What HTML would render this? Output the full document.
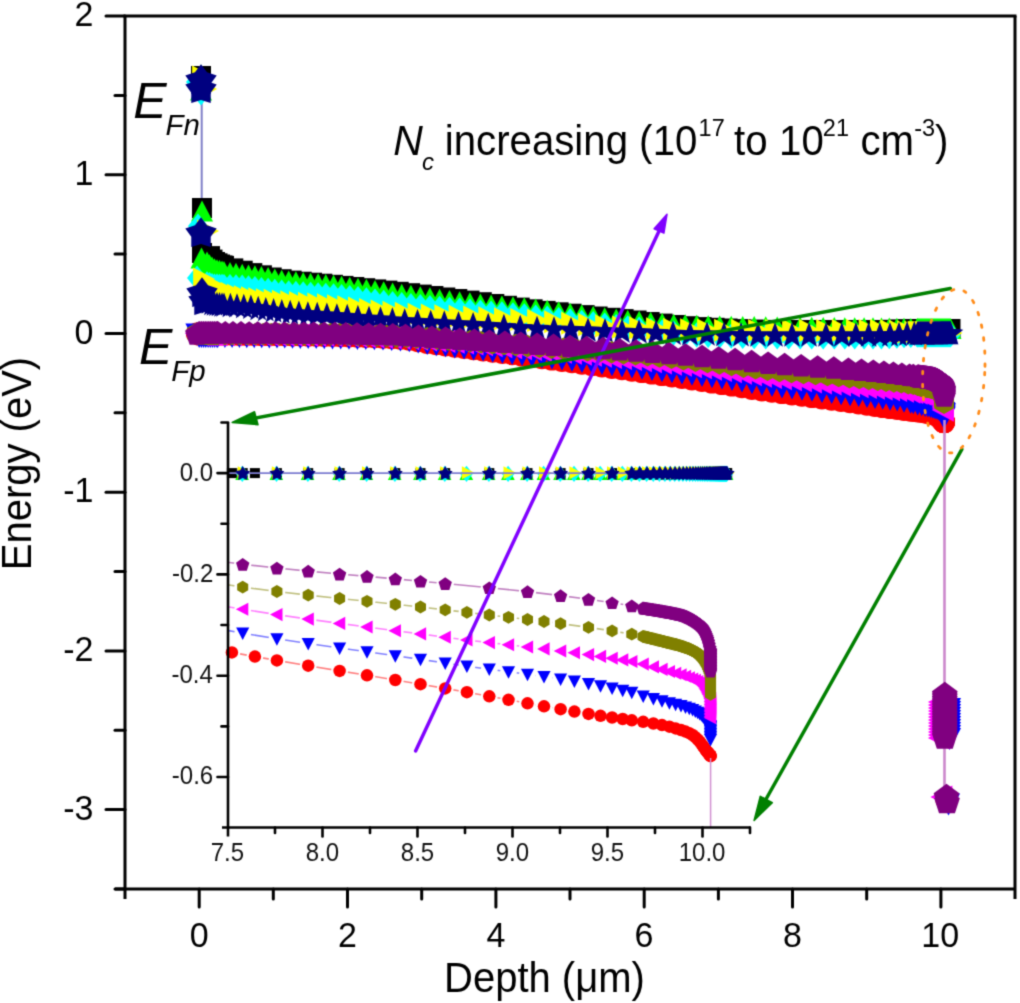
<!DOCTYPE html>
<html><head><meta charset="utf-8"><style>
html,body{margin:0;padding:0;background:#fff;}
svg{display:block;}
text{font-family:"Liberation Sans",sans-serif;}
</style></head><body>
<svg width="1020" height="1003" viewBox="0 0 1020 1003">
<defs><filter id="soft" color-interpolation-filters="sRGB" x="0" y="0" width="1020" height="1003" filterUnits="userSpaceOnUse"><feConvolveMatrix order="3" kernelMatrix="1 4 1 4 16 4 1 4 1" divisor="36" edgeMode="duplicate"/></filter><path id="k1" d="M-10.00,-10.00h20.00v20.00h-20.00z" fill="#000000"/><path id="k2" d="M-10.00,-10.00h20.00v20.00h-20.00z" fill="#000000"/><path id="k3" d="M0,-11.55L11.03,9.45L-11.03,9.45z" fill="#00FF00"/><path id="k4" d="M0,-11.55L11.03,9.45L-11.03,9.45z" fill="#00FF00"/><path id="k5" d="M0,-12.60L9.97,0L0,12.60L-9.97,0z" fill="#00FFFF"/><path id="k6" d="M0,-12.60L9.97,0L0,12.60L-9.97,0z" fill="#00FFFF"/><path id="k7" d="M12.10,0L-9.90,-11.55L-9.90,11.55z" fill="#FFFF00"/><path id="k8" d="M12.10,0L-9.90,-11.55L-9.90,11.55z" fill="#FFFF00"/><path id="k9" d="M0.00,-14.85L6.01,-6.63L15.69,-3.45L9.73,4.81L9.70,15.00L0.00,11.88L-9.70,15.00L-9.73,4.81L-15.69,-3.45L-6.01,-6.63z" fill="#000080"/><path id="k10" d="M0.00,-12.15L3.33,-3.24L12.84,-2.82L5.39,3.10L7.94,12.27L0.00,7.02L-7.94,12.27L-5.39,3.10L-12.84,-2.82L-3.33,-3.24z" fill="#000080"/><path id="k11" d="M-11.00,0a11.00,11.00 0 1,0 22.00,0a11.00,11.00 0 1,0 -22.00,0z" fill="#FF0000"/><path id="k12" d="M0,12.10L11.55,-9.90L-11.55,-9.90z" fill="#0000FF"/><path id="k13" d="M-12.10,0L9.90,-11.55L9.90,11.55z" fill="#FF00FF"/><path id="k14" d="M9.72,5.61L0.00,11.22L-9.72,5.61L-9.72,-5.61L-0.00,-11.22L9.72,-5.61z" fill="#808000"/><path id="k15" d="M0.00,-11.18L11.81,-2.60L7.30,11.29L-7.30,11.29L-11.81,-2.60z" fill="#800080"/><path id="k16" d="M-11.00,0a11.00,11.00 0 1,0 22.00,0a11.00,11.00 0 1,0 -22.00,0z" fill="#FF0000"/><path id="k17" d="M0,12.10L11.55,-9.90L-11.55,-9.90z" fill="#0000FF"/><path id="k18" d="M-12.10,0L9.90,-11.55L9.90,11.55z" fill="#FF00FF"/><path id="k19" d="M9.72,5.61L0.00,11.22L-9.72,5.61L-9.72,-5.61L-0.00,-11.22L9.72,-5.61z" fill="#808000"/><path id="k20" d="M0.00,-12.15L12.84,-2.82L7.94,12.27L-7.94,12.27L-12.84,-2.82z" fill="#800080"/><path id="k21" d="M-5.00,-5.00h10.00v10.00h-10.00z" fill="#000000"/><path id="k22" d="M0,-7.15L6.83,5.85L-6.83,5.85z" fill="#00FF00"/><path id="k23" d="M0,-8.10L6.41,0L0,8.10L-6.41,0z" fill="#00FFFF"/><path id="k24" d="M6.88,0L-5.62,-6.56L-5.62,6.56z" fill="#FFFF00"/><path id="k25" d="M0.00,-7.02L2.52,-2.69L7.42,-1.63L4.08,2.11L4.58,7.09L0.00,5.07L-4.58,7.09L-4.08,2.11L-7.42,-1.63L-2.52,-2.69z" fill="#000080"/><circle id="h26" r="8.45" fill="#fff"/><circle id="h27" r="8.45" fill="#fff"/><circle id="h28" r="8.45" fill="#fff"/><circle id="h29" r="8.45" fill="#fff"/><circle id="h30" r="8.70" fill="#fff"/><path id="k31" d="M-6.25,0a6.25,6.25 0 1,0 12.50,0a6.25,6.25 0 1,0 -12.50,0z" fill="#FF0000"/><path id="k32" d="M0,6.88L6.56,-5.62L-6.56,-5.62z" fill="#0000FF"/><path id="k33" d="M-6.88,0L5.62,-6.56L5.62,6.56z" fill="#FF00FF"/><path id="k34" d="M5.52,3.19L0.00,6.38L-5.52,3.19L-5.52,-3.19L-0.00,-6.38L5.52,-3.19z" fill="#808000"/><path id="k35" d="M0.00,-6.32L6.68,-1.47L4.13,6.38L-4.13,6.38L-6.68,-1.47z" fill="#800080"/></defs>
<g filter="url(#soft)">
<rect width="1020" height="1003" fill="#fff"/>
<line x1="201.7" y1="84" x2="201.7" y2="300" stroke="#8080C8" stroke-width="2"/>
<use href="#k1" x="201.0" y="76.0"/>
<use href="#k1" x="202.0" y="208.0"/>
<use href="#k1" x="202.0" y="253.0"/>
<use href="#k2" x="210.0" y="256.1"/>
<use href="#k2" x="212.5" y="259.6"/>
<use href="#k2" x="215.0" y="262.0"/>
<use href="#k2" x="217.5" y="263.3"/>
<use href="#k2" x="220.0" y="264.5"/>
<use href="#k2" x="222.5" y="265.4"/>
<use href="#k2" x="224.0" y="265.9"/>
<use href="#k2" x="233.3" y="268.4"/>
<use href="#k2" x="242.7" y="270.7"/>
<use href="#k2" x="252.3" y="273.1"/>
<use href="#k2" x="261.9" y="275.3"/>
<use href="#k2" x="271.7" y="277.5"/>
<use href="#k2" x="281.6" y="279.2"/>
<use href="#k2" x="291.6" y="280.6"/>
<use href="#k2" x="301.7" y="281.7"/>
<use href="#k2" x="312.0" y="282.7"/>
<use href="#k2" x="322.3" y="283.7"/>
<use href="#k2" x="332.9" y="284.8"/>
<use href="#k2" x="343.5" y="285.9"/>
<use href="#k2" x="354.3" y="287.0"/>
<use href="#k2" x="365.2" y="288.2"/>
<use href="#k2" x="376.2" y="289.4"/>
<use href="#k2" x="387.4" y="290.6"/>
<use href="#k2" x="398.7" y="291.8"/>
<use href="#k2" x="410.1" y="293.2"/>
<use href="#k2" x="421.7" y="294.6"/>
<use href="#k2" x="433.4" y="296.0"/>
<use href="#k2" x="445.3" y="297.5"/>
<use href="#k2" x="457.3" y="299.0"/>
<use href="#k2" x="469.5" y="300.6"/>
<use href="#k2" x="481.8" y="302.2"/>
<use href="#k2" x="494.3" y="304.0"/>
<use href="#k2" x="506.9" y="305.8"/>
<use href="#k2" x="519.7" y="307.6"/>
<use href="#k2" x="532.6" y="309.3"/>
<use href="#k2" x="545.6" y="310.9"/>
<use href="#k2" x="558.6" y="312.3"/>
<use href="#k2" x="571.6" y="313.7"/>
<use href="#k2" x="584.6" y="315.1"/>
<use href="#k2" x="597.6" y="316.5"/>
<use href="#k2" x="610.6" y="317.8"/>
<use href="#k2" x="623.6" y="319.1"/>
<use href="#k2" x="636.6" y="320.5"/>
<use href="#k2" x="649.6" y="322.0"/>
<use href="#k2" x="662.6" y="323.6"/>
<use href="#k2" x="675.6" y="325.0"/>
<use href="#k2" x="688.6" y="326.2"/>
<use href="#k2" x="701.6" y="327.1"/>
<use href="#k2" x="714.6" y="327.8"/>
<use href="#k2" x="727.6" y="328.5"/>
<use href="#k2" x="740.6" y="329.1"/>
<use href="#k2" x="753.6" y="329.6"/>
<use href="#k2" x="766.6" y="329.9"/>
<use href="#k2" x="779.6" y="330.0"/>
<use href="#k2" x="792.6" y="330.0"/>
<use href="#k2" x="805.6" y="330.0"/>
<use href="#k2" x="818.6" y="330.0"/>
<use href="#k2" x="831.3" y="330.0"/>
<use href="#k2" x="843.2" y="330.0"/>
<use href="#k2" x="854.3" y="330.0"/>
<use href="#k2" x="864.6" y="330.0"/>
<use href="#k2" x="874.3" y="330.0"/>
<use href="#k2" x="883.3" y="330.0"/>
<use href="#k2" x="891.6" y="329.8"/>
<use href="#k2" x="899.5" y="329.5"/>
<use href="#k2" x="906.8" y="329.3"/>
<use href="#k2" x="913.6" y="329.1"/>
<use href="#k2" x="917.5" y="329.0"/>
<use href="#k2" x="918.5" y="329.0"/>
<use href="#k2" x="919.5" y="329.0"/>
<use href="#k2" x="920.5" y="329.0"/>
<use href="#k2" x="921.5" y="329.0"/>
<use href="#k2" x="922.5" y="329.0"/>
<use href="#k2" x="923.5" y="329.0"/>
<use href="#k2" x="924.5" y="329.0"/>
<use href="#k2" x="925.5" y="329.0"/>
<use href="#k2" x="926.5" y="329.0"/>
<use href="#k2" x="927.5" y="329.0"/>
<use href="#k2" x="928.5" y="329.0"/>
<use href="#k2" x="929.5" y="329.0"/>
<use href="#k2" x="930.5" y="329.0"/>
<use href="#k2" x="931.5" y="329.0"/>
<use href="#k2" x="932.5" y="329.0"/>
<use href="#k2" x="933.5" y="329.0"/>
<use href="#k2" x="934.5" y="329.0"/>
<use href="#k2" x="935.5" y="329.0"/>
<use href="#k2" x="936.5" y="329.0"/>
<use href="#k2" x="937.5" y="329.0"/>
<use href="#k2" x="938.5" y="329.0"/>
<use href="#k2" x="939.5" y="329.0"/>
<use href="#k2" x="940.5" y="329.0"/>
<use href="#k2" x="941.5" y="329.0"/>
<use href="#k2" x="942.5" y="329.0"/>
<use href="#k2" x="943.5" y="329.0"/>
<use href="#k2" x="944.5" y="329.0"/>
<use href="#k2" x="945.5" y="329.0"/>
<use href="#k2" x="946.5" y="329.0"/>
<use href="#k2" x="947.5" y="329.0"/>
<use href="#k2" x="948.5" y="329.0"/>
<use href="#k2" x="949.5" y="329.0"/>
<use href="#k2" x="950.5" y="329.0"/>
<use href="#k3" x="201.0" y="76.0"/>
<use href="#k3" x="201.0" y="91.0"/>
<use href="#k3" x="202.0" y="212.0"/>
<use href="#k3" x="201.5" y="259.0"/>
<use href="#k4" x="207.0" y="263.0"/>
<use href="#k4" x="209.5" y="265.7"/>
<use href="#k4" x="212.0" y="268.1"/>
<use href="#k4" x="214.5" y="269.8"/>
<use href="#k4" x="217.0" y="270.7"/>
<use href="#k4" x="219.5" y="271.4"/>
<use href="#k4" x="222.0" y="272.1"/>
<use href="#k4" x="224.0" y="272.5"/>
<use href="#k4" x="230.0" y="273.6"/>
<use href="#k4" x="236.0" y="274.4"/>
<use href="#k4" x="242.2" y="275.3"/>
<use href="#k4" x="248.5" y="276.1"/>
<use href="#k4" x="254.9" y="276.7"/>
<use href="#k4" x="261.4" y="277.5"/>
<use href="#k4" x="268.1" y="278.6"/>
<use href="#k4" x="274.8" y="280.0"/>
<use href="#k4" x="281.7" y="281.2"/>
<use href="#k4" x="288.7" y="282.1"/>
<use href="#k4" x="295.9" y="282.9"/>
<use href="#k4" x="303.2" y="283.6"/>
<use href="#k4" x="310.6" y="284.3"/>
<use href="#k4" x="318.1" y="284.9"/>
<use href="#k4" x="325.8" y="285.6"/>
<use href="#k4" x="333.6" y="286.3"/>
<use href="#k4" x="341.6" y="287.2"/>
<use href="#k4" x="349.7" y="288.2"/>
<use href="#k4" x="358.0" y="289.2"/>
<use href="#k4" x="366.4" y="290.4"/>
<use href="#k4" x="375.0" y="291.6"/>
<use href="#k4" x="383.7" y="292.8"/>
<use href="#k4" x="392.6" y="294.0"/>
<use href="#k4" x="401.7" y="295.2"/>
<use href="#k4" x="410.9" y="296.4"/>
<use href="#k4" x="420.3" y="297.7"/>
<use href="#k4" x="429.9" y="298.9"/>
<use href="#k4" x="439.6" y="300.2"/>
<use href="#k4" x="449.5" y="301.5"/>
<use href="#k4" x="459.6" y="302.7"/>
<use href="#k4" x="469.9" y="303.9"/>
<use href="#k4" x="480.4" y="305.0"/>
<use href="#k4" x="491.1" y="306.1"/>
<use href="#k4" x="501.9" y="307.0"/>
<use href="#k4" x="513.0" y="307.9"/>
<use href="#k4" x="524.3" y="308.9"/>
<use href="#k4" x="535.7" y="310.1"/>
<use href="#k4" x="547.2" y="311.4"/>
<use href="#k4" x="558.7" y="312.9"/>
<use href="#k4" x="570.2" y="314.4"/>
<use href="#k4" x="581.7" y="315.9"/>
<use href="#k4" x="593.2" y="317.4"/>
<use href="#k4" x="604.7" y="318.8"/>
<use href="#k4" x="616.2" y="320.1"/>
<use href="#k4" x="627.7" y="321.3"/>
<use href="#k4" x="639.2" y="322.3"/>
<use href="#k4" x="650.7" y="323.3"/>
<use href="#k4" x="662.2" y="324.3"/>
<use href="#k4" x="673.7" y="325.2"/>
<use href="#k4" x="685.2" y="325.9"/>
<use href="#k4" x="696.7" y="326.4"/>
<use href="#k4" x="708.2" y="326.7"/>
<use href="#k4" x="719.7" y="327.0"/>
<use href="#k4" x="731.2" y="327.3"/>
<use href="#k4" x="742.7" y="327.5"/>
<use href="#k4" x="754.2" y="327.6"/>
<use href="#k4" x="765.7" y="327.8"/>
<use href="#k4" x="777.2" y="328.0"/>
<use href="#k4" x="788.7" y="328.1"/>
<use href="#k4" x="800.2" y="328.2"/>
<use href="#k4" x="811.7" y="328.4"/>
<use href="#k4" x="823.2" y="328.5"/>
<use href="#k4" x="834.3" y="328.6"/>
<use href="#k4" x="844.8" y="328.7"/>
<use href="#k4" x="854.7" y="328.7"/>
<use href="#k4" x="864.1" y="328.8"/>
<use href="#k4" x="873.0" y="328.9"/>
<use href="#k4" x="881.4" y="329.0"/>
<use href="#k4" x="889.3" y="329.1"/>
<use href="#k4" x="896.9" y="329.3"/>
<use href="#k4" x="904.0" y="329.4"/>
<use href="#k4" x="910.8" y="329.5"/>
<use href="#k4" x="917.2" y="329.5"/>
<use href="#k4" x="917.5" y="329.5"/>
<use href="#k4" x="918.5" y="329.5"/>
<use href="#k4" x="919.5" y="329.5"/>
<use href="#k4" x="920.5" y="329.5"/>
<use href="#k4" x="921.5" y="329.5"/>
<use href="#k4" x="922.5" y="329.5"/>
<use href="#k4" x="923.5" y="329.5"/>
<use href="#k4" x="924.5" y="329.5"/>
<use href="#k4" x="925.5" y="329.5"/>
<use href="#k4" x="926.5" y="329.5"/>
<use href="#k4" x="927.5" y="329.5"/>
<use href="#k4" x="928.5" y="329.5"/>
<use href="#k4" x="929.5" y="329.5"/>
<use href="#k4" x="930.5" y="329.5"/>
<use href="#k4" x="931.5" y="329.5"/>
<use href="#k4" x="932.5" y="329.5"/>
<use href="#k4" x="933.5" y="329.5"/>
<use href="#k4" x="934.5" y="329.5"/>
<use href="#k4" x="935.5" y="329.5"/>
<use href="#k4" x="936.5" y="329.5"/>
<use href="#k4" x="937.5" y="329.5"/>
<use href="#k4" x="938.5" y="329.5"/>
<use href="#k4" x="939.5" y="329.5"/>
<use href="#k4" x="940.5" y="329.5"/>
<use href="#k4" x="941.5" y="329.5"/>
<use href="#k4" x="942.5" y="329.5"/>
<use href="#k4" x="943.5" y="329.5"/>
<use href="#k4" x="944.5" y="329.5"/>
<use href="#k4" x="945.5" y="329.5"/>
<use href="#k4" x="946.5" y="329.5"/>
<use href="#k4" x="947.5" y="329.5"/>
<use href="#k4" x="948.5" y="329.5"/>
<use href="#k4" x="949.5" y="329.5"/>
<use href="#k4" x="950.5" y="329.5"/>
<use href="#k5" x="196.0" y="82.0"/>
<use href="#k5" x="201.0" y="93.0"/>
<use href="#k5" x="198.0" y="226.0"/>
<use href="#k5" x="197.0" y="278.0"/>
<use href="#k6" x="207.0" y="283.8"/>
<use href="#k6" x="209.5" y="284.7"/>
<use href="#k6" x="212.0" y="285.5"/>
<use href="#k6" x="214.5" y="286.0"/>
<use href="#k6" x="217.0" y="286.1"/>
<use href="#k6" x="219.5" y="286.3"/>
<use href="#k6" x="222.0" y="286.4"/>
<use href="#k6" x="224.0" y="286.5"/>
<use href="#k6" x="230.0" y="286.6"/>
<use href="#k6" x="236.0" y="286.8"/>
<use href="#k6" x="242.2" y="287.2"/>
<use href="#k6" x="248.5" y="287.8"/>
<use href="#k6" x="254.9" y="288.6"/>
<use href="#k6" x="261.4" y="289.5"/>
<use href="#k6" x="268.1" y="290.4"/>
<use href="#k6" x="274.8" y="291.4"/>
<use href="#k6" x="281.7" y="292.2"/>
<use href="#k6" x="288.7" y="292.8"/>
<use href="#k6" x="295.9" y="293.4"/>
<use href="#k6" x="303.2" y="293.9"/>
<use href="#k6" x="310.6" y="294.3"/>
<use href="#k6" x="318.1" y="294.8"/>
<use href="#k6" x="325.8" y="295.3"/>
<use href="#k6" x="333.6" y="295.9"/>
<use href="#k6" x="341.6" y="296.7"/>
<use href="#k6" x="349.7" y="297.6"/>
<use href="#k6" x="358.0" y="298.7"/>
<use href="#k6" x="366.4" y="299.9"/>
<use href="#k6" x="375.0" y="301.1"/>
<use href="#k6" x="383.7" y="302.4"/>
<use href="#k6" x="392.6" y="303.6"/>
<use href="#k6" x="401.7" y="304.7"/>
<use href="#k6" x="410.9" y="305.7"/>
<use href="#k6" x="420.3" y="306.6"/>
<use href="#k6" x="429.9" y="307.5"/>
<use href="#k6" x="439.6" y="308.4"/>
<use href="#k6" x="449.5" y="309.3"/>
<use href="#k6" x="459.6" y="310.2"/>
<use href="#k6" x="469.9" y="311.1"/>
<use href="#k6" x="480.4" y="312.0"/>
<use href="#k6" x="491.1" y="313.0"/>
<use href="#k6" x="501.9" y="313.9"/>
<use href="#k6" x="513.0" y="314.8"/>
<use href="#k6" x="524.3" y="315.8"/>
<use href="#k6" x="535.7" y="317.0"/>
<use href="#k6" x="547.2" y="318.2"/>
<use href="#k6" x="558.7" y="319.5"/>
<use href="#k6" x="570.2" y="320.9"/>
<use href="#k6" x="581.7" y="322.3"/>
<use href="#k6" x="593.2" y="323.7"/>
<use href="#k6" x="604.7" y="325.1"/>
<use href="#k6" x="616.2" y="326.5"/>
<use href="#k6" x="627.7" y="327.8"/>
<use href="#k6" x="639.2" y="329.0"/>
<use href="#k6" x="650.7" y="330.4"/>
<use href="#k6" x="662.2" y="331.8"/>
<use href="#k6" x="673.7" y="333.0"/>
<use href="#k6" x="685.2" y="334.1"/>
<use href="#k6" x="696.7" y="334.9"/>
<use href="#k6" x="708.2" y="335.3"/>
<use href="#k6" x="719.7" y="335.8"/>
<use href="#k6" x="731.2" y="336.1"/>
<use href="#k6" x="742.7" y="336.5"/>
<use href="#k6" x="754.2" y="336.7"/>
<use href="#k6" x="765.7" y="336.9"/>
<use href="#k6" x="777.2" y="337.0"/>
<use href="#k6" x="788.7" y="337.0"/>
<use href="#k6" x="800.2" y="337.0"/>
<use href="#k6" x="811.7" y="337.0"/>
<use href="#k6" x="823.2" y="337.0"/>
<use href="#k6" x="834.3" y="337.0"/>
<use href="#k6" x="844.8" y="337.0"/>
<use href="#k6" x="854.7" y="337.0"/>
<use href="#k6" x="864.1" y="337.0"/>
<use href="#k6" x="873.0" y="337.0"/>
<use href="#k6" x="881.4" y="337.0"/>
<use href="#k6" x="889.3" y="336.7"/>
<use href="#k6" x="896.9" y="336.2"/>
<use href="#k6" x="904.0" y="335.7"/>
<use href="#k6" x="910.8" y="335.3"/>
<use href="#k6" x="917.2" y="335.0"/>
<use href="#k6" x="917.5" y="335.0"/>
<use href="#k6" x="918.5" y="335.0"/>
<use href="#k6" x="919.5" y="335.0"/>
<use href="#k6" x="920.5" y="335.0"/>
<use href="#k6" x="921.5" y="335.0"/>
<use href="#k6" x="922.5" y="335.0"/>
<use href="#k6" x="923.5" y="335.0"/>
<use href="#k6" x="924.5" y="335.0"/>
<use href="#k6" x="925.5" y="335.0"/>
<use href="#k6" x="926.5" y="335.0"/>
<use href="#k6" x="927.5" y="335.0"/>
<use href="#k6" x="928.5" y="335.0"/>
<use href="#k6" x="929.5" y="335.0"/>
<use href="#k6" x="930.5" y="335.0"/>
<use href="#k6" x="931.5" y="335.0"/>
<use href="#k6" x="932.5" y="335.0"/>
<use href="#k6" x="933.5" y="335.0"/>
<use href="#k6" x="934.5" y="335.0"/>
<use href="#k6" x="935.5" y="335.0"/>
<use href="#k6" x="936.5" y="335.0"/>
<use href="#k6" x="937.5" y="335.0"/>
<use href="#k6" x="938.5" y="335.0"/>
<use href="#k6" x="939.5" y="335.0"/>
<use href="#k6" x="940.5" y="335.0"/>
<use href="#k6" x="941.5" y="335.0"/>
<use href="#k6" x="942.5" y="335.0"/>
<use href="#k6" x="943.5" y="335.0"/>
<use href="#k6" x="944.5" y="335.0"/>
<use href="#k6" x="945.5" y="335.0"/>
<use href="#k6" x="946.5" y="335.0"/>
<use href="#k6" x="947.5" y="335.0"/>
<use href="#k6" x="948.5" y="335.0"/>
<use href="#k6" x="949.5" y="335.0"/>
<use href="#k6" x="950.5" y="335.0"/>
<use href="#k7" x="202.0" y="77.0"/>
<use href="#k7" x="205.0" y="89.0"/>
<use href="#k7" x="207.0" y="231.0"/>
<use href="#k7" x="203.0" y="279.0"/>
<use href="#k8" x="207.0" y="283.9"/>
<use href="#k8" x="209.5" y="285.1"/>
<use href="#k8" x="212.0" y="286.3"/>
<use href="#k8" x="214.5" y="287.4"/>
<use href="#k8" x="217.0" y="288.4"/>
<use href="#k8" x="219.5" y="289.5"/>
<use href="#k8" x="222.0" y="290.4"/>
<use href="#k8" x="224.0" y="291.2"/>
<use href="#k8" x="230.4" y="293.4"/>
<use href="#k8" x="237.0" y="295.3"/>
<use href="#k8" x="243.8" y="296.8"/>
<use href="#k8" x="250.9" y="297.9"/>
<use href="#k8" x="258.2" y="298.8"/>
<use href="#k8" x="265.8" y="299.7"/>
<use href="#k8" x="273.6" y="300.4"/>
<use href="#k8" x="281.8" y="301.2"/>
<use href="#k8" x="290.2" y="301.9"/>
<use href="#k8" x="298.9" y="302.6"/>
<use href="#k8" x="307.9" y="303.3"/>
<use href="#k8" x="317.2" y="304.1"/>
<use href="#k8" x="326.9" y="304.8"/>
<use href="#k8" x="336.9" y="305.7"/>
<use href="#k8" x="347.2" y="306.8"/>
<use href="#k8" x="357.9" y="308.1"/>
<use href="#k8" x="369.0" y="309.5"/>
<use href="#k8" x="380.5" y="311.0"/>
<use href="#k8" x="392.4" y="312.3"/>
<use href="#k8" x="404.7" y="313.4"/>
<use href="#k8" x="417.5" y="314.2"/>
<use href="#k8" x="430.7" y="315.0"/>
<use href="#k8" x="444.3" y="315.7"/>
<use href="#k8" x="458.5" y="316.4"/>
<use href="#k8" x="473.1" y="317.1"/>
<use href="#k8" x="488.2" y="317.9"/>
<use href="#k8" x="503.9" y="318.7"/>
<use href="#k8" x="520.2" y="319.5"/>
<use href="#k8" x="537.0" y="320.4"/>
<use href="#k8" x="554.0" y="321.7"/>
<use href="#k8" x="571.0" y="323.1"/>
<use href="#k8" x="588.0" y="324.6"/>
<use href="#k8" x="605.0" y="325.9"/>
<use href="#k8" x="622.0" y="327.1"/>
<use href="#k8" x="639.0" y="327.9"/>
<use href="#k8" x="656.0" y="328.7"/>
<use href="#k8" x="673.0" y="329.4"/>
<use href="#k8" x="690.0" y="329.8"/>
<use href="#k8" x="707.0" y="330.1"/>
<use href="#k8" x="724.0" y="330.2"/>
<use href="#k8" x="741.0" y="330.4"/>
<use href="#k8" x="758.0" y="330.5"/>
<use href="#k8" x="775.0" y="330.5"/>
<use href="#k8" x="792.0" y="330.5"/>
<use href="#k8" x="809.0" y="330.5"/>
<use href="#k8" x="826.0" y="330.5"/>
<use href="#k8" x="841.8" y="330.5"/>
<use href="#k8" x="855.9" y="330.5"/>
<use href="#k8" x="868.6" y="330.5"/>
<use href="#k8" x="879.9" y="330.5"/>
<use href="#k8" x="890.0" y="330.8"/>
<use href="#k8" x="899.0" y="331.3"/>
<use href="#k8" x="907.1" y="331.9"/>
<use href="#k8" x="914.3" y="332.3"/>
<use href="#k8" x="917.5" y="332.4"/>
<use href="#k8" x="918.5" y="332.5"/>
<use href="#k8" x="919.5" y="332.5"/>
<use href="#k8" x="920.5" y="332.5"/>
<use href="#k8" x="921.5" y="332.5"/>
<use href="#k8" x="922.5" y="332.5"/>
<use href="#k8" x="923.5" y="332.6"/>
<use href="#k8" x="924.5" y="332.6"/>
<use href="#k8" x="925.5" y="332.6"/>
<use href="#k8" x="926.5" y="332.6"/>
<use href="#k8" x="927.5" y="332.6"/>
<use href="#k8" x="928.5" y="332.7"/>
<use href="#k8" x="929.5" y="332.7"/>
<use href="#k8" x="930.5" y="332.7"/>
<use href="#k8" x="931.5" y="332.7"/>
<use href="#k8" x="932.5" y="332.7"/>
<use href="#k8" x="933.5" y="332.8"/>
<use href="#k8" x="934.5" y="332.8"/>
<use href="#k8" x="935.5" y="332.8"/>
<use href="#k8" x="936.5" y="332.8"/>
<use href="#k8" x="937.5" y="332.8"/>
<use href="#k8" x="938.5" y="332.8"/>
<use href="#k8" x="939.5" y="332.8"/>
<use href="#k8" x="940.5" y="332.9"/>
<use href="#k8" x="941.5" y="332.9"/>
<use href="#k8" x="942.5" y="332.9"/>
<use href="#k8" x="943.5" y="332.9"/>
<use href="#k8" x="944.5" y="332.9"/>
<use href="#k8" x="945.5" y="332.9"/>
<use href="#k8" x="946.5" y="332.9"/>
<use href="#k8" x="947.5" y="332.9"/>
<use href="#k8" x="948.5" y="332.9"/>
<use href="#k8" x="949.5" y="333.0"/>
<use href="#k8" x="950.5" y="333.0"/>
<use href="#k9" x="201.0" y="79.0"/>
<use href="#k9" x="201.0" y="88.0"/>
<use href="#k9" x="201.0" y="232.0"/>
<use href="#k9" x="202.0" y="292.0"/>
<use href="#k9" x="204.0" y="300.0"/>
<use href="#k10" x="207.0" y="298.9"/>
<use href="#k10" x="209.5" y="301.6"/>
<use href="#k10" x="212.0" y="303.0"/>
<use href="#k10" x="214.5" y="303.5"/>
<use href="#k10" x="217.0" y="303.8"/>
<use href="#k10" x="219.5" y="304.1"/>
<use href="#k10" x="222.0" y="304.4"/>
<use href="#k10" x="224.0" y="304.6"/>
<use href="#k10" x="230.4" y="305.0"/>
<use href="#k10" x="237.0" y="305.3"/>
<use href="#k10" x="243.8" y="305.9"/>
<use href="#k10" x="250.9" y="306.7"/>
<use href="#k10" x="258.2" y="307.9"/>
<use href="#k10" x="265.8" y="309.1"/>
<use href="#k10" x="273.6" y="310.2"/>
<use href="#k10" x="281.8" y="311.2"/>
<use href="#k10" x="290.2" y="311.9"/>
<use href="#k10" x="298.9" y="312.6"/>
<use href="#k10" x="307.9" y="313.3"/>
<use href="#k10" x="317.2" y="313.9"/>
<use href="#k10" x="326.9" y="314.6"/>
<use href="#k10" x="336.9" y="315.3"/>
<use href="#k10" x="347.2" y="316.0"/>
<use href="#k10" x="357.9" y="316.9"/>
<use href="#k10" x="369.0" y="317.8"/>
<use href="#k10" x="380.5" y="318.6"/>
<use href="#k10" x="392.4" y="319.5"/>
<use href="#k10" x="404.7" y="320.3"/>
<use href="#k10" x="417.5" y="321.1"/>
<use href="#k10" x="430.7" y="321.8"/>
<use href="#k10" x="444.3" y="322.5"/>
<use href="#k10" x="458.5" y="323.3"/>
<use href="#k10" x="473.1" y="324.1"/>
<use href="#k10" x="488.2" y="325.0"/>
<use href="#k10" x="503.9" y="326.0"/>
<use href="#k10" x="520.2" y="327.0"/>
<use href="#k10" x="537.0" y="327.8"/>
<use href="#k10" x="554.0" y="328.5"/>
<use href="#k10" x="571.0" y="329.1"/>
<use href="#k10" x="588.0" y="329.6"/>
<use href="#k10" x="605.0" y="330.2"/>
<use href="#k10" x="622.0" y="330.7"/>
<use href="#k10" x="639.0" y="331.3"/>
<use href="#k10" x="656.0" y="332.0"/>
<use href="#k10" x="673.0" y="332.7"/>
<use href="#k10" x="690.0" y="333.3"/>
<use href="#k10" x="707.0" y="333.6"/>
<use href="#k10" x="724.0" y="333.9"/>
<use href="#k10" x="741.0" y="334.2"/>
<use href="#k10" x="758.0" y="334.4"/>
<use href="#k10" x="775.0" y="334.5"/>
<use href="#k10" x="792.0" y="334.5"/>
<use href="#k10" x="809.0" y="334.5"/>
<use href="#k10" x="826.0" y="334.5"/>
<use href="#k10" x="841.8" y="334.5"/>
<use href="#k10" x="855.9" y="334.5"/>
<use href="#k10" x="868.6" y="334.5"/>
<use href="#k10" x="879.9" y="334.5"/>
<use href="#k10" x="890.0" y="334.3"/>
<use href="#k10" x="899.0" y="333.9"/>
<use href="#k10" x="907.1" y="333.5"/>
<use href="#k10" x="914.3" y="333.2"/>
<use href="#k10" x="917.5" y="333.1"/>
<use href="#k10" x="918.5" y="333.0"/>
<use href="#k10" x="919.5" y="333.0"/>
<use href="#k10" x="920.5" y="333.0"/>
<use href="#k10" x="921.5" y="333.0"/>
<use href="#k10" x="922.5" y="333.0"/>
<use href="#k10" x="923.5" y="332.9"/>
<use href="#k10" x="924.5" y="332.9"/>
<use href="#k10" x="925.5" y="332.9"/>
<use href="#k10" x="926.5" y="332.9"/>
<use href="#k10" x="927.5" y="332.9"/>
<use href="#k10" x="928.5" y="332.8"/>
<use href="#k10" x="929.5" y="332.8"/>
<use href="#k10" x="930.5" y="332.8"/>
<use href="#k10" x="931.5" y="332.8"/>
<use href="#k10" x="932.5" y="332.8"/>
<use href="#k10" x="933.5" y="332.8"/>
<use href="#k10" x="934.5" y="332.7"/>
<use href="#k10" x="935.5" y="332.7"/>
<use href="#k10" x="936.5" y="332.7"/>
<use href="#k10" x="937.5" y="332.7"/>
<use href="#k10" x="938.5" y="332.7"/>
<use href="#k10" x="939.5" y="332.7"/>
<use href="#k10" x="940.5" y="332.7"/>
<use href="#k10" x="941.5" y="332.6"/>
<use href="#k10" x="942.5" y="332.6"/>
<use href="#k10" x="943.5" y="332.6"/>
<use href="#k10" x="944.5" y="332.6"/>
<use href="#k10" x="945.5" y="332.6"/>
<use href="#k10" x="946.5" y="332.6"/>
<use href="#k10" x="947.5" y="332.6"/>
<use href="#k10" x="948.5" y="332.6"/>
<use href="#k10" x="949.5" y="332.6"/>
<use href="#k10" x="950.5" y="332.6"/>
<use href="#k11" x="196.9" y="333.4"/>
<use href="#k11" x="199.2" y="334.7"/>
<use href="#k11" x="201.4" y="334.7"/>
<use href="#k11" x="203.6" y="334.7"/>
<use href="#k11" x="205.8" y="334.7"/>
<use href="#k11" x="208.1" y="334.7"/>
<use href="#k11" x="210.3" y="334.7"/>
<use href="#k11" x="212.5" y="334.7"/>
<use href="#k11" x="214.7" y="334.7"/>
<use href="#k11" x="217.0" y="334.7"/>
<use href="#k11" x="217.7" y="334.8"/>
<use href="#k11" x="224.9" y="334.8"/>
<use href="#k11" x="232.1" y="334.8"/>
<use href="#k11" x="239.4" y="334.9"/>
<use href="#k11" x="246.8" y="334.9"/>
<use href="#k11" x="254.2" y="335.0"/>
<use href="#k11" x="261.7" y="335.1"/>
<use href="#k11" x="269.3" y="335.1"/>
<use href="#k11" x="277.0" y="335.2"/>
<use href="#k11" x="284.7" y="335.3"/>
<use href="#k11" x="292.5" y="335.4"/>
<use href="#k11" x="300.3" y="335.5"/>
<use href="#k11" x="308.2" y="335.6"/>
<use href="#k11" x="316.2" y="335.8"/>
<use href="#k11" x="324.3" y="335.9"/>
<use href="#k11" x="332.5" y="336.0"/>
<use href="#k11" x="340.7" y="336.2"/>
<use href="#k11" x="349.0" y="336.4"/>
<use href="#k11" x="357.4" y="336.6"/>
<use href="#k11" x="365.8" y="336.9"/>
<use href="#k11" x="374.4" y="337.3"/>
<use href="#k11" x="383.0" y="337.7"/>
<use href="#k11" x="391.7" y="338.2"/>
<use href="#k11" x="400.4" y="338.7"/>
<use href="#k11" x="409.3" y="339.7"/>
<use href="#k11" x="418.2" y="341.3"/>
<use href="#k11" x="427.2" y="342.9"/>
<use href="#k11" x="436.3" y="344.2"/>
<use href="#k11" x="445.5" y="345.5"/>
<use href="#k11" x="454.8" y="346.8"/>
<use href="#k11" x="464.1" y="348.0"/>
<use href="#k11" x="473.6" y="349.3"/>
<use href="#k11" x="483.1" y="350.5"/>
<use href="#k11" x="492.7" y="351.7"/>
<use href="#k11" x="502.4" y="353.0"/>
<use href="#k11" x="512.2" y="354.3"/>
<use href="#k11" x="522.1" y="355.6"/>
<use href="#k11" x="532.0" y="356.9"/>
<use href="#k11" x="542.0" y="358.3"/>
<use href="#k11" x="552.0" y="359.6"/>
<use href="#k11" x="562.0" y="361.0"/>
<use href="#k11" x="572.0" y="362.3"/>
<use href="#k11" x="582.0" y="363.7"/>
<use href="#k11" x="592.0" y="365.1"/>
<use href="#k11" x="602.0" y="366.5"/>
<use href="#k11" x="612.0" y="367.9"/>
<use href="#k11" x="622.0" y="369.3"/>
<use href="#k11" x="632.0" y="370.7"/>
<use href="#k11" x="642.0" y="372.1"/>
<use href="#k11" x="652.0" y="373.6"/>
<use href="#k11" x="662.0" y="375.1"/>
<use href="#k11" x="672.0" y="376.5"/>
<use href="#k11" x="682.0" y="378.0"/>
<use href="#k11" x="692.0" y="379.5"/>
<use href="#k11" x="702.0" y="381.0"/>
<use href="#k11" x="712.0" y="382.6"/>
<use href="#k11" x="722.0" y="384.1"/>
<use href="#k11" x="732.0" y="385.6"/>
<use href="#k11" x="742.0" y="387.2"/>
<use href="#k11" x="752.0" y="388.9"/>
<use href="#k11" x="762.0" y="390.4"/>
<use href="#k11" x="772.0" y="391.8"/>
<use href="#k11" x="782.0" y="393.1"/>
<use href="#k11" x="792.0" y="394.5"/>
<use href="#k11" x="802.0" y="395.8"/>
<use href="#k11" x="812.0" y="397.1"/>
<use href="#k11" x="822.0" y="398.4"/>
<use href="#k11" x="831.7" y="399.7"/>
<use href="#k11" x="841.1" y="401.0"/>
<use href="#k11" x="850.1" y="402.3"/>
<use href="#k11" x="858.7" y="403.5"/>
<use href="#k11" x="867.0" y="404.8"/>
<use href="#k11" x="875.0" y="405.9"/>
<use href="#k11" x="882.7" y="407.1"/>
<use href="#k11" x="890.1" y="408.1"/>
<use href="#k11" x="897.2" y="409.0"/>
<use href="#k11" x="904.0" y="409.9"/>
<use href="#k11" x="910.6" y="410.6"/>
<use href="#k11" x="913.3" y="410.9"/>
<use href="#k11" x="917.7" y="411.4"/>
<use href="#k11" x="921.7" y="411.9"/>
<use href="#k11" x="925.1" y="412.4"/>
<use href="#k11" x="927.9" y="412.9"/>
<use href="#k11" x="930.4" y="413.4"/>
<use href="#k11" x="932.5" y="414.0"/>
<use href="#k11" x="934.2" y="414.5"/>
<use href="#k11" x="935.7" y="414.9"/>
<use href="#k11" x="937.0" y="415.5"/>
<use href="#k11" x="938.1" y="416.2"/>
<use href="#k11" x="939.0" y="416.9"/>
<use href="#k11" x="939.8" y="417.6"/>
<use href="#k11" x="940.4" y="418.3"/>
<use href="#k11" x="941.0" y="418.9"/>
<use href="#k11" x="941.5" y="419.5"/>
<use href="#k11" x="941.9" y="419.9"/>
<use href="#k11" x="942.2" y="420.3"/>
<use href="#k11" x="942.5" y="420.6"/>
<use href="#k11" x="942.8" y="420.9"/>
<use href="#k11" x="943.0" y="421.1"/>
<use href="#k11" x="943.2" y="421.3"/>
<use href="#k11" x="943.4" y="421.4"/>
<use href="#k11" x="943.6" y="421.6"/>
<use href="#k11" x="943.7" y="421.8"/>
<use href="#k11" x="943.9" y="422.0"/>
<use href="#k11" x="944.0" y="422.0"/>
<use href="#k11" x="944.0" y="422.0"/>
<use href="#k11" x="944.0" y="422.1"/>
<use href="#k11" x="944.0" y="422.1"/>
<use href="#k11" x="944.0" y="422.1"/>
<use href="#k11" x="944.0" y="422.1"/>
<use href="#k11" x="944.0" y="422.2"/>
<use href="#k12" x="196.9" y="333.4"/>
<use href="#k12" x="199.2" y="335.8"/>
<use href="#k12" x="201.4" y="335.8"/>
<use href="#k12" x="203.6" y="335.8"/>
<use href="#k12" x="205.8" y="335.8"/>
<use href="#k12" x="208.1" y="335.8"/>
<use href="#k12" x="210.3" y="335.8"/>
<use href="#k12" x="212.5" y="335.9"/>
<use href="#k12" x="214.7" y="335.9"/>
<use href="#k12" x="217.0" y="335.9"/>
<use href="#k12" x="217.7" y="335.9"/>
<use href="#k12" x="224.9" y="335.9"/>
<use href="#k12" x="232.1" y="336.0"/>
<use href="#k12" x="239.4" y="336.0"/>
<use href="#k12" x="246.8" y="336.1"/>
<use href="#k12" x="254.2" y="336.2"/>
<use href="#k12" x="261.7" y="336.2"/>
<use href="#k12" x="269.3" y="336.3"/>
<use href="#k12" x="277.0" y="336.4"/>
<use href="#k12" x="284.7" y="336.5"/>
<use href="#k12" x="292.5" y="336.6"/>
<use href="#k12" x="300.3" y="336.8"/>
<use href="#k12" x="308.2" y="336.9"/>
<use href="#k12" x="316.2" y="337.0"/>
<use href="#k12" x="324.3" y="337.2"/>
<use href="#k12" x="332.5" y="337.3"/>
<use href="#k12" x="340.7" y="337.4"/>
<use href="#k12" x="349.0" y="337.6"/>
<use href="#k12" x="357.4" y="337.8"/>
<use href="#k12" x="365.8" y="338.0"/>
<use href="#k12" x="374.4" y="338.2"/>
<use href="#k12" x="383.0" y="338.5"/>
<use href="#k12" x="391.7" y="338.9"/>
<use href="#k12" x="400.4" y="339.3"/>
<use href="#k12" x="409.3" y="340.2"/>
<use href="#k12" x="418.2" y="341.5"/>
<use href="#k12" x="427.2" y="342.9"/>
<use href="#k12" x="436.3" y="344.1"/>
<use href="#k12" x="445.5" y="345.2"/>
<use href="#k12" x="454.8" y="346.3"/>
<use href="#k12" x="464.1" y="347.3"/>
<use href="#k12" x="473.6" y="348.4"/>
<use href="#k12" x="483.1" y="349.5"/>
<use href="#k12" x="492.7" y="350.6"/>
<use href="#k12" x="502.4" y="351.7"/>
<use href="#k12" x="512.2" y="352.8"/>
<use href="#k12" x="522.1" y="354.0"/>
<use href="#k12" x="532.0" y="355.1"/>
<use href="#k12" x="542.0" y="356.3"/>
<use href="#k12" x="552.0" y="357.4"/>
<use href="#k12" x="562.0" y="358.5"/>
<use href="#k12" x="572.0" y="359.6"/>
<use href="#k12" x="582.0" y="360.8"/>
<use href="#k12" x="592.0" y="361.9"/>
<use href="#k12" x="602.0" y="363.0"/>
<use href="#k12" x="612.0" y="364.2"/>
<use href="#k12" x="622.0" y="365.4"/>
<use href="#k12" x="632.0" y="366.5"/>
<use href="#k12" x="642.0" y="367.7"/>
<use href="#k12" x="652.0" y="368.9"/>
<use href="#k12" x="662.0" y="370.1"/>
<use href="#k12" x="672.0" y="371.2"/>
<use href="#k12" x="682.0" y="372.4"/>
<use href="#k12" x="692.0" y="373.7"/>
<use href="#k12" x="702.0" y="374.9"/>
<use href="#k12" x="712.0" y="376.2"/>
<use href="#k12" x="722.0" y="377.5"/>
<use href="#k12" x="732.0" y="378.9"/>
<use href="#k12" x="742.0" y="380.5"/>
<use href="#k12" x="752.0" y="382.2"/>
<use href="#k12" x="762.0" y="383.7"/>
<use href="#k12" x="772.0" y="385.0"/>
<use href="#k12" x="782.0" y="386.3"/>
<use href="#k12" x="792.0" y="387.4"/>
<use href="#k12" x="802.0" y="388.6"/>
<use href="#k12" x="812.0" y="389.7"/>
<use href="#k12" x="822.0" y="390.8"/>
<use href="#k12" x="831.7" y="391.9"/>
<use href="#k12" x="841.1" y="393.1"/>
<use href="#k12" x="850.1" y="394.1"/>
<use href="#k12" x="858.7" y="395.0"/>
<use href="#k12" x="867.0" y="395.9"/>
<use href="#k12" x="875.0" y="396.8"/>
<use href="#k12" x="882.7" y="397.7"/>
<use href="#k12" x="890.1" y="398.6"/>
<use href="#k12" x="897.2" y="399.5"/>
<use href="#k12" x="904.0" y="400.6"/>
<use href="#k12" x="910.6" y="401.7"/>
<use href="#k12" x="913.3" y="402.2"/>
<use href="#k12" x="917.7" y="403.3"/>
<use href="#k12" x="921.7" y="404.2"/>
<use href="#k12" x="925.1" y="404.8"/>
<use href="#k12" x="927.9" y="405.4"/>
<use href="#k12" x="930.4" y="405.9"/>
<use href="#k12" x="932.5" y="406.3"/>
<use href="#k12" x="934.2" y="406.8"/>
<use href="#k12" x="935.7" y="407.2"/>
<use href="#k12" x="937.0" y="407.6"/>
<use href="#k12" x="938.1" y="408.0"/>
<use href="#k12" x="939.0" y="408.4"/>
<use href="#k12" x="939.8" y="408.8"/>
<use href="#k12" x="940.4" y="409.2"/>
<use href="#k12" x="941.0" y="409.6"/>
<use href="#k12" x="941.5" y="410.1"/>
<use href="#k12" x="941.9" y="410.6"/>
<use href="#k12" x="942.2" y="411.0"/>
<use href="#k12" x="942.5" y="411.4"/>
<use href="#k12" x="942.8" y="411.7"/>
<use href="#k12" x="943.0" y="411.9"/>
<use href="#k12" x="943.2" y="412.1"/>
<use href="#k12" x="943.4" y="412.3"/>
<use href="#k12" x="943.6" y="412.5"/>
<use href="#k12" x="943.7" y="412.6"/>
<use href="#k12" x="943.9" y="412.8"/>
<use href="#k12" x="944.0" y="412.8"/>
<use href="#k12" x="944.0" y="412.8"/>
<use href="#k12" x="944.0" y="413.6"/>
<use href="#k12" x="944.0" y="414.5"/>
<use href="#k12" x="944.0" y="415.3"/>
<use href="#k12" x="944.0" y="416.1"/>
<use href="#k12" x="944.0" y="416.9"/>
<use href="#k13" x="196.9" y="333.4"/>
<use href="#k13" x="199.2" y="334.7"/>
<use href="#k13" x="201.4" y="334.7"/>
<use href="#k13" x="203.6" y="334.7"/>
<use href="#k13" x="205.8" y="334.7"/>
<use href="#k13" x="208.1" y="334.7"/>
<use href="#k13" x="210.3" y="334.7"/>
<use href="#k13" x="212.5" y="334.7"/>
<use href="#k13" x="214.7" y="334.7"/>
<use href="#k13" x="217.0" y="334.7"/>
<use href="#k13" x="217.7" y="334.7"/>
<use href="#k13" x="224.9" y="334.7"/>
<use href="#k13" x="232.1" y="334.8"/>
<use href="#k13" x="239.4" y="334.8"/>
<use href="#k13" x="246.8" y="334.8"/>
<use href="#k13" x="254.2" y="334.8"/>
<use href="#k13" x="261.7" y="334.9"/>
<use href="#k13" x="269.3" y="334.9"/>
<use href="#k13" x="277.0" y="334.9"/>
<use href="#k13" x="284.7" y="335.0"/>
<use href="#k13" x="292.5" y="335.0"/>
<use href="#k13" x="300.3" y="335.1"/>
<use href="#k13" x="308.2" y="335.2"/>
<use href="#k13" x="316.2" y="335.2"/>
<use href="#k13" x="324.3" y="335.3"/>
<use href="#k13" x="332.5" y="335.4"/>
<use href="#k13" x="340.7" y="335.5"/>
<use href="#k13" x="349.0" y="335.8"/>
<use href="#k13" x="357.4" y="336.1"/>
<use href="#k13" x="365.8" y="336.4"/>
<use href="#k13" x="374.4" y="336.8"/>
<use href="#k13" x="383.0" y="337.3"/>
<use href="#k13" x="391.7" y="337.8"/>
<use href="#k13" x="400.4" y="338.2"/>
<use href="#k13" x="409.3" y="338.7"/>
<use href="#k13" x="418.2" y="339.3"/>
<use href="#k13" x="427.2" y="340.0"/>
<use href="#k13" x="436.3" y="340.7"/>
<use href="#k13" x="445.5" y="341.4"/>
<use href="#k13" x="454.8" y="342.2"/>
<use href="#k13" x="464.1" y="343.0"/>
<use href="#k13" x="473.6" y="343.9"/>
<use href="#k13" x="483.1" y="344.8"/>
<use href="#k13" x="492.7" y="345.8"/>
<use href="#k13" x="502.4" y="346.7"/>
<use href="#k13" x="512.2" y="347.6"/>
<use href="#k13" x="522.1" y="348.6"/>
<use href="#k13" x="532.0" y="349.5"/>
<use href="#k13" x="542.0" y="350.4"/>
<use href="#k13" x="552.0" y="351.4"/>
<use href="#k13" x="562.0" y="352.3"/>
<use href="#k13" x="572.0" y="353.3"/>
<use href="#k13" x="582.0" y="354.3"/>
<use href="#k13" x="592.0" y="355.3"/>
<use href="#k13" x="602.0" y="356.3"/>
<use href="#k13" x="612.0" y="357.4"/>
<use href="#k13" x="622.0" y="358.4"/>
<use href="#k13" x="632.0" y="359.5"/>
<use href="#k13" x="642.0" y="360.6"/>
<use href="#k13" x="652.0" y="361.8"/>
<use href="#k13" x="662.0" y="362.9"/>
<use href="#k13" x="672.0" y="364.1"/>
<use href="#k13" x="682.0" y="365.3"/>
<use href="#k13" x="692.0" y="366.6"/>
<use href="#k13" x="702.0" y="367.8"/>
<use href="#k13" x="712.0" y="369.1"/>
<use href="#k13" x="722.0" y="370.4"/>
<use href="#k13" x="732.0" y="371.8"/>
<use href="#k13" x="742.0" y="373.3"/>
<use href="#k13" x="752.0" y="374.8"/>
<use href="#k13" x="762.0" y="376.2"/>
<use href="#k13" x="772.0" y="377.5"/>
<use href="#k13" x="782.0" y="378.6"/>
<use href="#k13" x="792.0" y="379.8"/>
<use href="#k13" x="802.0" y="380.8"/>
<use href="#k13" x="812.0" y="381.9"/>
<use href="#k13" x="822.0" y="382.9"/>
<use href="#k13" x="831.7" y="384.0"/>
<use href="#k13" x="841.1" y="384.9"/>
<use href="#k13" x="850.1" y="385.9"/>
<use href="#k13" x="858.7" y="386.7"/>
<use href="#k13" x="867.0" y="387.4"/>
<use href="#k13" x="875.0" y="388.2"/>
<use href="#k13" x="882.7" y="388.9"/>
<use href="#k13" x="890.1" y="389.7"/>
<use href="#k13" x="897.2" y="390.4"/>
<use href="#k13" x="904.0" y="391.3"/>
<use href="#k13" x="910.6" y="392.1"/>
<use href="#k13" x="913.3" y="392.5"/>
<use href="#k13" x="917.7" y="393.3"/>
<use href="#k13" x="921.7" y="394.2"/>
<use href="#k13" x="925.1" y="395.0"/>
<use href="#k13" x="927.9" y="395.6"/>
<use href="#k13" x="930.4" y="396.2"/>
<use href="#k13" x="932.5" y="396.7"/>
<use href="#k13" x="934.2" y="397.1"/>
<use href="#k13" x="935.7" y="397.6"/>
<use href="#k13" x="937.0" y="398.0"/>
<use href="#k13" x="938.1" y="398.4"/>
<use href="#k13" x="939.0" y="398.8"/>
<use href="#k13" x="939.8" y="399.1"/>
<use href="#k13" x="940.4" y="399.5"/>
<use href="#k13" x="941.0" y="399.9"/>
<use href="#k13" x="941.5" y="400.3"/>
<use href="#k13" x="941.9" y="400.8"/>
<use href="#k13" x="942.2" y="401.3"/>
<use href="#k13" x="942.5" y="401.7"/>
<use href="#k13" x="942.8" y="402.0"/>
<use href="#k13" x="943.0" y="402.4"/>
<use href="#k13" x="943.2" y="402.6"/>
<use href="#k13" x="943.4" y="402.9"/>
<use href="#k13" x="943.6" y="403.3"/>
<use href="#k13" x="943.7" y="403.6"/>
<use href="#k13" x="943.9" y="404.0"/>
<use href="#k13" x="944.0" y="404.1"/>
<use href="#k13" x="944.0" y="404.1"/>
<use href="#k13" x="944.0" y="405.3"/>
<use href="#k13" x="944.0" y="406.5"/>
<use href="#k13" x="944.0" y="407.7"/>
<use href="#k13" x="944.0" y="408.9"/>
<use href="#k13" x="944.0" y="410.1"/>
<use href="#k14" x="196.9" y="333.4"/>
<use href="#k14" x="199.2" y="334.1"/>
<use href="#k14" x="201.4" y="334.1"/>
<use href="#k14" x="203.6" y="334.1"/>
<use href="#k14" x="205.8" y="334.1"/>
<use href="#k14" x="208.1" y="334.1"/>
<use href="#k14" x="210.3" y="334.1"/>
<use href="#k14" x="212.5" y="334.1"/>
<use href="#k14" x="214.7" y="334.1"/>
<use href="#k14" x="217.0" y="334.1"/>
<use href="#k14" x="217.7" y="334.1"/>
<use href="#k14" x="225.0" y="334.1"/>
<use href="#k14" x="232.4" y="334.1"/>
<use href="#k14" x="239.9" y="334.1"/>
<use href="#k14" x="247.5" y="334.1"/>
<use href="#k14" x="255.3" y="334.1"/>
<use href="#k14" x="263.1" y="334.1"/>
<use href="#k14" x="271.1" y="334.1"/>
<use href="#k14" x="279.2" y="334.1"/>
<use href="#k14" x="287.4" y="334.2"/>
<use href="#k14" x="295.8" y="334.2"/>
<use href="#k14" x="304.3" y="334.2"/>
<use href="#k14" x="312.9" y="334.2"/>
<use href="#k14" x="321.6" y="334.2"/>
<use href="#k14" x="330.5" y="334.2"/>
<use href="#k14" x="339.5" y="334.3"/>
<use href="#k14" x="348.7" y="334.5"/>
<use href="#k14" x="357.9" y="334.8"/>
<use href="#k14" x="367.4" y="335.1"/>
<use href="#k14" x="377.0" y="335.6"/>
<use href="#k14" x="386.7" y="336.0"/>
<use href="#k14" x="396.6" y="336.5"/>
<use href="#k14" x="406.6" y="336.9"/>
<use href="#k14" x="416.8" y="337.5"/>
<use href="#k14" x="427.1" y="338.1"/>
<use href="#k14" x="437.6" y="338.8"/>
<use href="#k14" x="448.2" y="339.6"/>
<use href="#k14" x="459.0" y="340.4"/>
<use href="#k14" x="470.0" y="341.3"/>
<use href="#k14" x="481.2" y="342.2"/>
<use href="#k14" x="492.5" y="343.2"/>
<use href="#k14" x="504.0" y="344.1"/>
<use href="#k14" x="515.7" y="345.0"/>
<use href="#k14" x="527.5" y="346.0"/>
<use href="#k14" x="539.5" y="346.9"/>
<use href="#k14" x="551.5" y="347.7"/>
<use href="#k14" x="563.5" y="348.6"/>
<use href="#k14" x="575.5" y="349.4"/>
<use href="#k14" x="587.5" y="350.3"/>
<use href="#k14" x="599.5" y="351.2"/>
<use href="#k14" x="611.5" y="352.2"/>
<use href="#k14" x="623.5" y="353.2"/>
<use href="#k14" x="635.5" y="354.3"/>
<use href="#k14" x="647.5" y="355.4"/>
<use href="#k14" x="659.5" y="356.6"/>
<use href="#k14" x="671.5" y="357.9"/>
<use href="#k14" x="683.5" y="359.3"/>
<use href="#k14" x="695.5" y="360.7"/>
<use href="#k14" x="707.5" y="362.1"/>
<use href="#k14" x="719.5" y="363.5"/>
<use href="#k14" x="731.5" y="365.0"/>
<use href="#k14" x="743.5" y="366.7"/>
<use href="#k14" x="755.5" y="368.4"/>
<use href="#k14" x="767.5" y="369.8"/>
<use href="#k14" x="779.5" y="371.0"/>
<use href="#k14" x="791.5" y="372.1"/>
<use href="#k14" x="803.5" y="373.1"/>
<use href="#k14" x="815.5" y="374.1"/>
<use href="#k14" x="827.5" y="375.1"/>
<use href="#k14" x="838.7" y="376.1"/>
<use href="#k14" x="849.4" y="377.2"/>
<use href="#k14" x="859.4" y="378.1"/>
<use href="#k14" x="868.8" y="379.0"/>
<use href="#k14" x="877.7" y="379.8"/>
<use href="#k14" x="886.0" y="380.7"/>
<use href="#k14" x="893.9" y="381.5"/>
<use href="#k14" x="901.3" y="382.4"/>
<use href="#k14" x="908.3" y="383.3"/>
<use href="#k14" x="913.3" y="383.9"/>
<use href="#k14" x="917.7" y="384.7"/>
<use href="#k14" x="918.0" y="384.7"/>
<use href="#k14" x="918.2" y="384.8"/>
<use href="#k14" x="918.5" y="384.8"/>
<use href="#k14" x="918.8" y="384.9"/>
<use href="#k14" x="919.1" y="384.9"/>
<use href="#k14" x="919.4" y="385.0"/>
<use href="#k14" x="919.7" y="385.0"/>
<use href="#k14" x="920.0" y="385.1"/>
<use href="#k14" x="920.3" y="385.2"/>
<use href="#k14" x="920.6" y="385.2"/>
<use href="#k14" x="920.9" y="385.3"/>
<use href="#k14" x="921.2" y="385.3"/>
<use href="#k14" x="921.5" y="385.4"/>
<use href="#k14" x="921.8" y="385.4"/>
<use href="#k14" x="922.1" y="385.5"/>
<use href="#k14" x="922.4" y="385.6"/>
<use href="#k14" x="922.7" y="385.6"/>
<use href="#k14" x="923.0" y="385.7"/>
<use href="#k14" x="923.3" y="385.7"/>
<use href="#k14" x="923.6" y="385.8"/>
<use href="#k14" x="923.9" y="385.9"/>
<use href="#k14" x="924.2" y="385.9"/>
<use href="#k14" x="924.5" y="386.0"/>
<use href="#k14" x="924.8" y="386.0"/>
<use href="#k14" x="925.1" y="386.1"/>
<use href="#k14" x="925.4" y="386.2"/>
<use href="#k14" x="925.7" y="386.2"/>
<use href="#k14" x="926.0" y="386.3"/>
<use href="#k14" x="926.3" y="386.4"/>
<use href="#k14" x="926.6" y="386.4"/>
<use href="#k14" x="926.9" y="386.5"/>
<use href="#k14" x="927.1" y="386.5"/>
<use href="#k14" x="927.4" y="386.6"/>
<use href="#k14" x="927.7" y="386.6"/>
<use href="#k14" x="928.0" y="386.7"/>
<use href="#k14" x="928.3" y="386.8"/>
<use href="#k14" x="928.6" y="386.8"/>
<use href="#k14" x="928.9" y="386.9"/>
<use href="#k14" x="929.2" y="386.9"/>
<use href="#k14" x="929.5" y="387.0"/>
<use href="#k14" x="929.8" y="387.1"/>
<use href="#k14" x="930.1" y="387.1"/>
<use href="#k14" x="930.4" y="387.2"/>
<use href="#k14" x="930.7" y="387.2"/>
<use href="#k14" x="931.0" y="387.3"/>
<use href="#k14" x="931.3" y="387.4"/>
<use href="#k14" x="931.6" y="387.4"/>
<use href="#k14" x="931.9" y="387.5"/>
<use href="#k14" x="932.2" y="387.6"/>
<use href="#k14" x="932.5" y="387.6"/>
<use href="#k14" x="932.8" y="387.7"/>
<use href="#k14" x="933.1" y="387.8"/>
<use href="#k14" x="933.4" y="387.9"/>
<use href="#k14" x="933.7" y="388.0"/>
<use href="#k14" x="934.0" y="388.0"/>
<use href="#k14" x="934.3" y="388.1"/>
<use href="#k14" x="934.6" y="388.2"/>
<use href="#k14" x="934.9" y="388.3"/>
<use href="#k14" x="935.2" y="388.4"/>
<use href="#k14" x="935.5" y="388.5"/>
<use href="#k14" x="935.8" y="388.6"/>
<use href="#k14" x="936.0" y="388.7"/>
<use href="#k14" x="936.3" y="388.8"/>
<use href="#k14" x="936.6" y="388.9"/>
<use href="#k14" x="936.9" y="389.0"/>
<use href="#k14" x="937.2" y="389.1"/>
<use href="#k14" x="937.5" y="389.3"/>
<use href="#k14" x="937.8" y="389.4"/>
<use href="#k14" x="938.1" y="389.5"/>
<use href="#k14" x="938.4" y="389.7"/>
<use href="#k14" x="938.7" y="389.8"/>
<use href="#k14" x="939.0" y="390.0"/>
<use href="#k14" x="939.3" y="390.2"/>
<use href="#k14" x="939.6" y="390.4"/>
<use href="#k14" x="939.9" y="390.6"/>
<use href="#k14" x="940.2" y="390.8"/>
<use href="#k14" x="940.5" y="391.1"/>
<use href="#k14" x="940.8" y="391.3"/>
<use href="#k14" x="941.1" y="391.6"/>
<use href="#k14" x="941.4" y="391.9"/>
<use href="#k14" x="941.7" y="392.3"/>
<use href="#k14" x="942.0" y="392.6"/>
<use href="#k14" x="942.3" y="393.1"/>
<use href="#k14" x="942.6" y="393.6"/>
<use href="#k14" x="942.9" y="394.1"/>
<use href="#k14" x="943.2" y="394.7"/>
<use href="#k14" x="943.5" y="395.4"/>
<use href="#k14" x="943.8" y="396.2"/>
<use href="#k14" x="944.0" y="396.9"/>
<use href="#k14" x="944.0" y="396.9"/>
<use href="#k14" x="944.0" y="398.1"/>
<use href="#k14" x="944.0" y="399.3"/>
<use href="#k14" x="944.0" y="400.5"/>
<use href="#k14" x="944.0" y="401.6"/>
<use href="#k14" x="944.0" y="402.8"/>
<use href="#k15" x="196.9" y="333.4"/>
<use href="#k15" x="199.2" y="332.2"/>
<use href="#k15" x="201.4" y="332.2"/>
<use href="#k15" x="203.6" y="332.2"/>
<use href="#k15" x="205.8" y="332.2"/>
<use href="#k15" x="208.1" y="332.2"/>
<use href="#k15" x="210.3" y="332.2"/>
<use href="#k15" x="212.5" y="332.2"/>
<use href="#k15" x="214.7" y="332.2"/>
<use href="#k15" x="217.0" y="332.2"/>
<use href="#k15" x="217.7" y="332.2"/>
<use href="#k15" x="225.3" y="332.3"/>
<use href="#k15" x="233.0" y="332.3"/>
<use href="#k15" x="241.0" y="332.3"/>
<use href="#k15" x="249.2" y="332.4"/>
<use href="#k15" x="257.7" y="332.4"/>
<use href="#k15" x="266.4" y="332.5"/>
<use href="#k15" x="275.3" y="332.5"/>
<use href="#k15" x="284.5" y="332.6"/>
<use href="#k15" x="294.0" y="332.6"/>
<use href="#k15" x="303.8" y="332.7"/>
<use href="#k15" x="313.8" y="332.8"/>
<use href="#k15" x="324.2" y="332.9"/>
<use href="#k15" x="334.8" y="333.0"/>
<use href="#k15" x="345.8" y="333.2"/>
<use href="#k15" x="357.0" y="333.4"/>
<use href="#k15" x="368.6" y="333.6"/>
<use href="#k15" x="380.6" y="333.9"/>
<use href="#k15" x="392.8" y="334.3"/>
<use href="#k15" x="405.5" y="334.9"/>
<use href="#k15" x="418.5" y="335.8"/>
<use href="#k15" x="431.9" y="336.8"/>
<use href="#k15" x="445.6" y="337.7"/>
<use href="#k15" x="459.8" y="338.6"/>
<use href="#k15" x="474.4" y="339.6"/>
<use href="#k15" x="489.4" y="340.6"/>
<use href="#k15" x="504.9" y="341.6"/>
<use href="#k15" x="520.8" y="342.7"/>
<use href="#k15" x="537.1" y="343.8"/>
<use href="#k15" x="553.6" y="344.8"/>
<use href="#k15" x="570.1" y="345.9"/>
<use href="#k15" x="586.6" y="346.9"/>
<use href="#k15" x="603.1" y="348.0"/>
<use href="#k15" x="619.6" y="349.2"/>
<use href="#k15" x="636.1" y="350.4"/>
<use href="#k15" x="652.6" y="351.7"/>
<use href="#k15" x="669.1" y="353.0"/>
<use href="#k15" x="685.6" y="354.4"/>
<use href="#k15" x="702.1" y="355.9"/>
<use href="#k15" x="718.6" y="357.4"/>
<use href="#k15" x="735.1" y="359.0"/>
<use href="#k15" x="751.6" y="361.0"/>
<use href="#k15" x="768.1" y="362.6"/>
<use href="#k15" x="784.6" y="364.0"/>
<use href="#k15" x="801.1" y="365.2"/>
<use href="#k15" x="817.6" y="366.4"/>
<use href="#k15" x="833.8" y="367.5"/>
<use href="#k15" x="848.4" y="368.7"/>
<use href="#k15" x="861.5" y="369.7"/>
<use href="#k15" x="873.3" y="370.7"/>
<use href="#k15" x="883.9" y="371.7"/>
<use href="#k15" x="893.4" y="372.7"/>
<use href="#k15" x="901.9" y="373.6"/>
<use href="#k15" x="909.6" y="374.6"/>
<use href="#k15" x="913.3" y="375.0"/>
<use href="#k15" x="917.7" y="375.7"/>
<use href="#k15" x="918.0" y="375.7"/>
<use href="#k15" x="918.2" y="375.8"/>
<use href="#k15" x="918.5" y="375.8"/>
<use href="#k15" x="918.8" y="375.8"/>
<use href="#k15" x="919.1" y="375.9"/>
<use href="#k15" x="919.4" y="375.9"/>
<use href="#k15" x="919.7" y="375.9"/>
<use href="#k15" x="920.0" y="376.0"/>
<use href="#k15" x="920.3" y="376.0"/>
<use href="#k15" x="920.6" y="376.1"/>
<use href="#k15" x="920.9" y="376.1"/>
<use href="#k15" x="921.2" y="376.1"/>
<use href="#k15" x="921.5" y="376.2"/>
<use href="#k15" x="921.8" y="376.2"/>
<use href="#k15" x="922.1" y="376.2"/>
<use href="#k15" x="922.4" y="376.3"/>
<use href="#k15" x="922.7" y="376.3"/>
<use href="#k15" x="923.0" y="376.4"/>
<use href="#k15" x="923.3" y="376.4"/>
<use href="#k15" x="923.6" y="376.4"/>
<use href="#k15" x="923.9" y="376.5"/>
<use href="#k15" x="924.2" y="376.5"/>
<use href="#k15" x="924.5" y="376.6"/>
<use href="#k15" x="924.8" y="376.6"/>
<use href="#k15" x="925.1" y="376.6"/>
<use href="#k15" x="925.4" y="376.7"/>
<use href="#k15" x="925.7" y="376.7"/>
<use href="#k15" x="926.0" y="376.8"/>
<use href="#k15" x="926.3" y="376.8"/>
<use href="#k15" x="926.6" y="376.9"/>
<use href="#k15" x="926.9" y="376.9"/>
<use href="#k15" x="927.1" y="376.9"/>
<use href="#k15" x="927.4" y="377.0"/>
<use href="#k15" x="927.7" y="377.0"/>
<use href="#k15" x="928.0" y="377.1"/>
<use href="#k15" x="928.3" y="377.1"/>
<use href="#k15" x="928.6" y="377.2"/>
<use href="#k15" x="928.9" y="377.2"/>
<use href="#k15" x="929.2" y="377.2"/>
<use href="#k15" x="929.5" y="377.3"/>
<use href="#k15" x="929.8" y="377.3"/>
<use href="#k15" x="930.1" y="377.4"/>
<use href="#k15" x="930.4" y="377.4"/>
<use href="#k15" x="930.7" y="377.5"/>
<use href="#k15" x="931.0" y="377.5"/>
<use href="#k15" x="931.3" y="377.6"/>
<use href="#k15" x="931.6" y="377.6"/>
<use href="#k15" x="931.9" y="377.7"/>
<use href="#k15" x="932.2" y="377.8"/>
<use href="#k15" x="932.5" y="377.8"/>
<use href="#k15" x="932.8" y="377.9"/>
<use href="#k15" x="933.1" y="378.0"/>
<use href="#k15" x="933.4" y="378.0"/>
<use href="#k15" x="933.7" y="378.1"/>
<use href="#k15" x="934.0" y="378.2"/>
<use href="#k15" x="934.3" y="378.3"/>
<use href="#k15" x="934.6" y="378.4"/>
<use href="#k15" x="934.9" y="378.5"/>
<use href="#k15" x="935.2" y="378.6"/>
<use href="#k15" x="935.5" y="378.7"/>
<use href="#k15" x="935.8" y="378.8"/>
<use href="#k15" x="936.0" y="378.9"/>
<use href="#k15" x="936.3" y="379.1"/>
<use href="#k15" x="936.6" y="379.2"/>
<use href="#k15" x="936.9" y="379.3"/>
<use href="#k15" x="937.2" y="379.5"/>
<use href="#k15" x="937.5" y="379.6"/>
<use href="#k15" x="937.8" y="379.8"/>
<use href="#k15" x="938.1" y="379.9"/>
<use href="#k15" x="938.4" y="380.1"/>
<use href="#k15" x="938.7" y="380.2"/>
<use href="#k15" x="939.0" y="380.4"/>
<use href="#k15" x="939.3" y="380.6"/>
<use href="#k15" x="939.6" y="380.8"/>
<use href="#k15" x="939.9" y="381.0"/>
<use href="#k15" x="940.2" y="381.2"/>
<use href="#k15" x="940.5" y="381.5"/>
<use href="#k15" x="940.8" y="381.8"/>
<use href="#k15" x="941.1" y="382.1"/>
<use href="#k15" x="941.4" y="382.5"/>
<use href="#k15" x="941.7" y="383.0"/>
<use href="#k15" x="942.0" y="383.5"/>
<use href="#k15" x="942.3" y="384.1"/>
<use href="#k15" x="942.6" y="384.7"/>
<use href="#k15" x="942.9" y="385.4"/>
<use href="#k15" x="943.2" y="386.2"/>
<use href="#k15" x="943.5" y="387.2"/>
<use href="#k15" x="943.8" y="388.2"/>
<use href="#k15" x="944.0" y="389.0"/>
<use href="#k15" x="944.0" y="389.0"/>
<use href="#k15" x="944.0" y="390.3"/>
<use href="#k15" x="944.0" y="391.6"/>
<use href="#k15" x="944.0" y="392.9"/>
<use href="#k15" x="944.0" y="394.2"/>
<use href="#k15" x="944.0" y="395.5"/>
<line x1="944.5" y1="420" x2="944.5" y2="800" stroke="#CC88CC" stroke-width="2.6"/>
<use href="#k16" x="944.5" y="706.0"/>
<use href="#k16" x="944.5" y="709.0"/>
<use href="#k16" x="944.5" y="712.0"/>
<use href="#k16" x="944.5" y="715.0"/>
<use href="#k16" x="944.5" y="718.0"/>
<use href="#k16" x="944.5" y="721.0"/>
<use href="#k16" x="944.5" y="724.0"/>
<use href="#k16" x="944.5" y="727.0"/>
<use href="#k16" x="944.5" y="730.0"/>
<use href="#k16" x="944.5" y="733.0"/>
<use href="#k16" x="944.5" y="736.0"/>
<use href="#k16" x="946.5" y="800.0"/>
<use href="#k17" x="949.5" y="708.0"/>
<use href="#k17" x="949.5" y="711.0"/>
<use href="#k17" x="949.5" y="714.0"/>
<use href="#k17" x="949.5" y="717.0"/>
<use href="#k17" x="949.5" y="720.0"/>
<use href="#k17" x="949.5" y="723.0"/>
<use href="#k17" x="949.5" y="726.0"/>
<use href="#k17" x="949.5" y="729.0"/>
<use href="#k17" x="949.5" y="732.0"/>
<use href="#k17" x="949.5" y="735.0"/>
<use href="#k17" x="949.5" y="738.0"/>
<use href="#k17" x="948.5" y="803.5"/>
<use href="#k18" x="940.0" y="702.0"/>
<use href="#k18" x="940.0" y="705.0"/>
<use href="#k18" x="940.0" y="708.0"/>
<use href="#k18" x="940.0" y="711.0"/>
<use href="#k18" x="940.0" y="714.0"/>
<use href="#k18" x="940.0" y="717.0"/>
<use href="#k18" x="940.0" y="720.0"/>
<use href="#k18" x="940.0" y="723.0"/>
<use href="#k18" x="940.0" y="726.0"/>
<use href="#k18" x="940.0" y="729.0"/>
<use href="#k18" x="940.0" y="732.0"/>
<use href="#k18" x="940.0" y="735.0"/>
<use href="#k18" x="940.0" y="738.0"/>
<use href="#k18" x="942.5" y="797.0"/>
<use href="#k19" x="944.5" y="700.0"/>
<use href="#k19" x="944.5" y="703.0"/>
<use href="#k19" x="944.5" y="706.0"/>
<use href="#k19" x="944.5" y="709.0"/>
<use href="#k19" x="944.5" y="712.0"/>
<use href="#k19" x="944.5" y="715.0"/>
<use href="#k19" x="944.5" y="718.0"/>
<use href="#k19" x="944.5" y="721.0"/>
<use href="#k19" x="944.5" y="724.0"/>
<use href="#k19" x="944.5" y="727.0"/>
<use href="#k19" x="944.5" y="730.0"/>
<use href="#k19" x="944.5" y="733.0"/>
<use href="#k19" x="944.5" y="736.0"/>
<use href="#k19" x="946.5" y="799.0"/>
<use href="#k20" x="944.8" y="694.0"/>
<use href="#k20" x="944.8" y="696.5"/>
<use href="#k20" x="944.8" y="699.0"/>
<use href="#k20" x="944.8" y="701.5"/>
<use href="#k20" x="944.8" y="704.0"/>
<use href="#k20" x="944.8" y="706.5"/>
<use href="#k20" x="944.8" y="709.0"/>
<use href="#k20" x="944.8" y="711.5"/>
<use href="#k20" x="944.8" y="714.0"/>
<use href="#k20" x="944.8" y="716.5"/>
<use href="#k20" x="944.8" y="719.0"/>
<use href="#k20" x="944.8" y="721.5"/>
<use href="#k20" x="944.8" y="724.0"/>
<use href="#k20" x="944.8" y="726.5"/>
<use href="#k20" x="944.8" y="729.0"/>
<use href="#k20" x="944.8" y="731.5"/>
<use href="#k20" x="944.8" y="734.0"/>
<use href="#k20" x="944.8" y="736.5"/>
<use href="#k20" x="946.5" y="796.0"/>
<use href="#k20" x="947.0" y="801.0"/>
<use href="#k21" x="231.9" y="473.1"/>
<use href="#k21" x="254.9" y="473.1"/>
<use href="#k21" x="242.7" y="473.1"/>
<use href="#k21" x="276.9" y="473.1"/>
<use href="#k21" x="308.2" y="473.1"/>
<use href="#k21" x="339.6" y="473.1"/>
<use href="#k21" x="367.0" y="473.1"/>
<use href="#k21" x="395.3" y="473.1"/>
<use href="#k21" x="420.5" y="473.1"/>
<use href="#k21" x="445.2" y="473.1"/>
<use href="#k21" x="489.3" y="473.1"/>
<use href="#k21" x="527.5" y="473.1"/>
<use href="#k21" x="560.6" y="473.1"/>
<use href="#k21" x="588.5" y="473.1"/>
<use href="#k21" x="612.1" y="473.1"/>
<use href="#k21" x="631.8" y="473.1"/>
<use href="#k21" x="639.8" y="473.1"/>
<use href="#k21" x="647.0" y="473.1"/>
<use href="#k21" x="653.7" y="473.1"/>
<use href="#k21" x="659.8" y="473.1"/>
<use href="#k21" x="665.3" y="473.1"/>
<use href="#k21" x="670.4" y="473.1"/>
<use href="#k21" x="675.1" y="473.1"/>
<use href="#k21" x="679.4" y="473.1"/>
<use href="#k21" x="683.3" y="473.1"/>
<use href="#k21" x="686.8" y="473.1"/>
<use href="#k21" x="690.1" y="473.1"/>
<use href="#k21" x="693.1" y="473.1"/>
<use href="#k21" x="695.8" y="473.1"/>
<use href="#k21" x="698.3" y="473.1"/>
<use href="#k21" x="700.6" y="473.1"/>
<use href="#k21" x="702.7" y="473.1"/>
<use href="#k21" x="704.7" y="473.1"/>
<use href="#k21" x="706.4" y="473.1"/>
<use href="#k21" x="708.0" y="473.1"/>
<use href="#k21" x="709.5" y="473.1"/>
<use href="#k21" x="710.8" y="473.1"/>
<use href="#k21" x="712.1" y="473.1"/>
<use href="#k21" x="713.2" y="473.1"/>
<use href="#k21" x="714.2" y="473.1"/>
<use href="#k21" x="715.2" y="473.1"/>
<use href="#k21" x="716.0" y="473.1"/>
<use href="#k21" x="716.8" y="473.1"/>
<use href="#k21" x="717.5" y="473.1"/>
<use href="#k21" x="718.2" y="473.1"/>
<use href="#k21" x="718.8" y="473.1"/>
<use href="#k21" x="719.3" y="473.1"/>
<use href="#k21" x="719.9" y="473.1"/>
<use href="#k21" x="720.3" y="473.1"/>
<use href="#k21" x="720.7" y="473.1"/>
<use href="#k21" x="721.1" y="473.1"/>
<use href="#k21" x="721.5" y="473.1"/>
<use href="#k21" x="721.9" y="473.1"/>
<use href="#k21" x="722.3" y="473.1"/>
<use href="#k21" x="722.6" y="473.1"/>
<use href="#k21" x="723.0" y="473.1"/>
<use href="#k21" x="723.4" y="473.1"/>
<use href="#k21" x="723.8" y="473.1"/>
<use href="#k21" x="724.2" y="473.1"/>
<use href="#k21" x="724.5" y="473.1"/>
<use href="#k21" x="724.9" y="473.1"/>
<use href="#k21" x="725.3" y="473.1"/>
<use href="#k21" x="725.7" y="473.1"/>
<use href="#k21" x="726.1" y="473.1"/>
<use href="#k21" x="726.4" y="473.1"/>
<use href="#k21" x="726.8" y="473.1"/>
<use href="#k21" x="727.2" y="473.1"/>
<use href="#k22" x="242.1" y="474.2"/>
<use href="#k22" x="276.3" y="474.2"/>
<use href="#k22" x="307.6" y="474.2"/>
<use href="#k22" x="339.0" y="474.2"/>
<use href="#k22" x="366.4" y="474.2"/>
<use href="#k22" x="394.7" y="474.2"/>
<use href="#k22" x="419.9" y="474.2"/>
<use href="#k22" x="444.6" y="474.2"/>
<use href="#k22" x="466.3" y="474.2"/>
<use href="#k22" x="488.7" y="474.2"/>
<use href="#k22" x="507.9" y="474.2"/>
<use href="#k22" x="526.9" y="474.2"/>
<use href="#k22" x="543.4" y="474.2"/>
<use href="#k22" x="560.0" y="474.2"/>
<use href="#k22" x="573.8" y="474.2"/>
<use href="#k22" x="587.9" y="474.2"/>
<use href="#k22" x="599.9" y="474.2"/>
<use href="#k22" x="611.5" y="474.2"/>
<use href="#k22" x="622.1" y="474.2"/>
<use href="#k22" x="631.2" y="474.2"/>
<use href="#k22" x="639.2" y="474.2"/>
<use href="#k22" x="646.4" y="474.2"/>
<use href="#k22" x="653.1" y="474.2"/>
<use href="#k22" x="659.2" y="474.2"/>
<use href="#k22" x="664.7" y="474.2"/>
<use href="#k22" x="669.8" y="474.2"/>
<use href="#k22" x="674.5" y="474.2"/>
<use href="#k22" x="678.8" y="474.2"/>
<use href="#k22" x="682.7" y="474.2"/>
<use href="#k22" x="686.2" y="474.2"/>
<use href="#k22" x="689.5" y="474.2"/>
<use href="#k22" x="692.5" y="474.2"/>
<use href="#k22" x="695.2" y="474.2"/>
<use href="#k22" x="697.7" y="474.2"/>
<use href="#k22" x="700.0" y="474.2"/>
<use href="#k22" x="702.1" y="474.2"/>
<use href="#k22" x="704.1" y="474.2"/>
<use href="#k22" x="705.8" y="474.2"/>
<use href="#k22" x="707.4" y="474.2"/>
<use href="#k22" x="708.9" y="474.2"/>
<use href="#k22" x="710.2" y="474.2"/>
<use href="#k22" x="711.5" y="474.2"/>
<use href="#k22" x="712.6" y="474.2"/>
<use href="#k22" x="713.6" y="474.2"/>
<use href="#k22" x="714.6" y="474.2"/>
<use href="#k22" x="715.4" y="474.2"/>
<use href="#k22" x="716.2" y="474.2"/>
<use href="#k22" x="716.9" y="474.2"/>
<use href="#k22" x="717.6" y="474.2"/>
<use href="#k22" x="718.2" y="474.2"/>
<use href="#k22" x="718.7" y="474.2"/>
<use href="#k22" x="719.3" y="474.2"/>
<use href="#k22" x="719.7" y="474.2"/>
<use href="#k22" x="720.1" y="474.2"/>
<use href="#k22" x="720.5" y="474.2"/>
<use href="#k22" x="720.9" y="474.2"/>
<use href="#k22" x="721.3" y="474.2"/>
<use href="#k22" x="721.7" y="474.2"/>
<use href="#k22" x="722.0" y="474.2"/>
<use href="#k22" x="722.4" y="474.2"/>
<use href="#k22" x="722.8" y="474.2"/>
<use href="#k22" x="723.2" y="474.2"/>
<use href="#k22" x="723.6" y="474.2"/>
<use href="#k22" x="723.9" y="474.2"/>
<use href="#k22" x="724.3" y="474.2"/>
<use href="#k22" x="724.7" y="474.2"/>
<use href="#k22" x="725.1" y="474.2"/>
<use href="#k22" x="725.5" y="474.2"/>
<use href="#k22" x="725.8" y="474.2"/>
<use href="#k22" x="726.2" y="474.2"/>
<use href="#k22" x="726.6" y="474.2"/>
<use href="#k23" x="242.3" y="473.8"/>
<use href="#k23" x="276.5" y="473.8"/>
<use href="#k23" x="307.9" y="473.8"/>
<use href="#k23" x="339.2" y="473.8"/>
<use href="#k23" x="366.6" y="473.8"/>
<use href="#k23" x="394.9" y="473.8"/>
<use href="#k23" x="420.1" y="473.8"/>
<use href="#k23" x="444.8" y="473.8"/>
<use href="#k23" x="466.5" y="473.8"/>
<use href="#k23" x="488.9" y="473.8"/>
<use href="#k23" x="508.1" y="473.8"/>
<use href="#k23" x="527.1" y="473.8"/>
<use href="#k23" x="543.6" y="473.8"/>
<use href="#k23" x="560.2" y="473.8"/>
<use href="#k23" x="574.0" y="473.8"/>
<use href="#k23" x="588.1" y="473.8"/>
<use href="#k23" x="600.1" y="473.8"/>
<use href="#k23" x="611.7" y="473.8"/>
<use href="#k23" x="622.3" y="473.8"/>
<use href="#k23" x="631.4" y="473.8"/>
<use href="#k23" x="639.4" y="473.8"/>
<use href="#k23" x="646.6" y="473.8"/>
<use href="#k23" x="653.3" y="473.8"/>
<use href="#k23" x="659.4" y="473.8"/>
<use href="#k23" x="664.9" y="473.8"/>
<use href="#k23" x="670.0" y="473.8"/>
<use href="#k23" x="674.7" y="473.8"/>
<use href="#k23" x="679.0" y="473.8"/>
<use href="#k23" x="682.9" y="473.8"/>
<use href="#k23" x="686.4" y="473.8"/>
<use href="#k23" x="689.7" y="473.8"/>
<use href="#k23" x="692.7" y="473.8"/>
<use href="#k23" x="695.4" y="473.8"/>
<use href="#k23" x="697.9" y="473.8"/>
<use href="#k23" x="700.2" y="473.8"/>
<use href="#k23" x="702.3" y="473.8"/>
<use href="#k23" x="704.3" y="473.8"/>
<use href="#k23" x="706.0" y="473.8"/>
<use href="#k23" x="707.6" y="473.8"/>
<use href="#k23" x="709.1" y="473.8"/>
<use href="#k23" x="710.4" y="473.8"/>
<use href="#k23" x="711.7" y="473.8"/>
<use href="#k23" x="712.8" y="473.8"/>
<use href="#k23" x="713.8" y="473.8"/>
<use href="#k23" x="714.8" y="473.8"/>
<use href="#k23" x="715.6" y="473.8"/>
<use href="#k23" x="716.4" y="473.8"/>
<use href="#k23" x="717.1" y="473.8"/>
<use href="#k23" x="717.8" y="473.8"/>
<use href="#k23" x="718.4" y="473.8"/>
<use href="#k23" x="718.9" y="473.8"/>
<use href="#k23" x="719.5" y="473.8"/>
<use href="#k23" x="719.9" y="473.8"/>
<use href="#k23" x="720.3" y="473.8"/>
<use href="#k23" x="720.7" y="473.8"/>
<use href="#k23" x="721.1" y="473.8"/>
<use href="#k23" x="721.5" y="473.8"/>
<use href="#k23" x="721.9" y="473.8"/>
<use href="#k23" x="722.2" y="473.8"/>
<use href="#k23" x="722.6" y="473.8"/>
<use href="#k23" x="723.0" y="473.8"/>
<use href="#k23" x="723.4" y="473.8"/>
<use href="#k23" x="723.8" y="473.8"/>
<use href="#k23" x="724.1" y="473.8"/>
<use href="#k23" x="724.5" y="473.8"/>
<use href="#k23" x="724.9" y="473.8"/>
<use href="#k23" x="725.3" y="473.8"/>
<use href="#k23" x="725.7" y="473.8"/>
<use href="#k23" x="726.0" y="473.8"/>
<use href="#k23" x="726.4" y="473.8"/>
<use href="#k23" x="726.8" y="473.8"/>
<use href="#k24" x="243.3" y="472.8"/>
<use href="#k24" x="277.5" y="472.8"/>
<use href="#k24" x="308.9" y="472.8"/>
<use href="#k24" x="340.2" y="472.8"/>
<use href="#k24" x="367.6" y="472.8"/>
<use href="#k24" x="395.9" y="472.8"/>
<use href="#k24" x="421.1" y="472.8"/>
<use href="#k24" x="445.8" y="472.8"/>
<use href="#k24" x="467.5" y="472.8"/>
<use href="#k24" x="489.9" y="472.8"/>
<use href="#k24" x="509.1" y="472.8"/>
<use href="#k24" x="528.1" y="472.8"/>
<use href="#k24" x="544.6" y="472.8"/>
<use href="#k24" x="561.2" y="472.8"/>
<use href="#k24" x="575.0" y="472.8"/>
<use href="#k24" x="589.1" y="472.8"/>
<use href="#k24" x="601.1" y="472.8"/>
<use href="#k24" x="612.7" y="472.8"/>
<use href="#k24" x="623.3" y="472.8"/>
<use href="#k24" x="632.4" y="472.8"/>
<use href="#k24" x="640.4" y="472.8"/>
<use href="#k24" x="647.6" y="472.8"/>
<use href="#k24" x="654.3" y="472.8"/>
<use href="#k24" x="660.4" y="472.8"/>
<use href="#k24" x="665.9" y="472.8"/>
<use href="#k24" x="671.0" y="472.8"/>
<use href="#k24" x="675.7" y="472.8"/>
<use href="#k24" x="680.0" y="472.8"/>
<use href="#k24" x="683.9" y="472.8"/>
<use href="#k24" x="687.4" y="472.8"/>
<use href="#k24" x="690.7" y="472.8"/>
<use href="#k24" x="693.7" y="472.8"/>
<use href="#k24" x="696.4" y="472.8"/>
<use href="#k24" x="698.9" y="472.8"/>
<use href="#k24" x="701.2" y="472.8"/>
<use href="#k24" x="703.3" y="472.8"/>
<use href="#k24" x="705.3" y="472.8"/>
<use href="#k24" x="707.0" y="472.8"/>
<use href="#k24" x="708.6" y="472.8"/>
<use href="#k24" x="710.1" y="472.8"/>
<use href="#k24" x="711.4" y="472.8"/>
<use href="#k24" x="712.7" y="472.8"/>
<use href="#k24" x="713.8" y="472.8"/>
<use href="#k24" x="714.8" y="472.8"/>
<use href="#k24" x="715.8" y="472.8"/>
<use href="#k24" x="716.6" y="472.8"/>
<use href="#k24" x="717.4" y="472.8"/>
<use href="#k24" x="718.1" y="472.8"/>
<use href="#k24" x="718.8" y="472.8"/>
<use href="#k24" x="719.4" y="472.8"/>
<use href="#k24" x="719.9" y="472.8"/>
<use href="#k24" x="720.5" y="472.8"/>
<use href="#k24" x="720.9" y="472.8"/>
<use href="#k24" x="721.3" y="472.8"/>
<use href="#k24" x="721.7" y="472.8"/>
<use href="#k24" x="722.1" y="472.8"/>
<use href="#k24" x="722.5" y="472.8"/>
<use href="#k24" x="722.9" y="472.8"/>
<use href="#k24" x="723.2" y="472.8"/>
<use href="#k24" x="723.6" y="472.8"/>
<use href="#k24" x="724.0" y="472.8"/>
<use href="#k24" x="724.4" y="472.8"/>
<use href="#k24" x="724.8" y="472.8"/>
<use href="#k24" x="725.1" y="472.8"/>
<use href="#k24" x="725.5" y="472.8"/>
<use href="#k24" x="725.9" y="472.8"/>
<use href="#k24" x="726.3" y="472.8"/>
<use href="#k24" x="726.7" y="472.8"/>
<use href="#k24" x="727.0" y="472.8"/>
<use href="#k24" x="727.4" y="472.8"/>
<use href="#k24" x="727.8" y="472.8"/>
<polyline points="227.5,473.1 727.2,473.1" fill="none" stroke="#7C7CD0" stroke-width="1.6" />
<use href="#k25" x="242.7" y="472.9"/>
<use href="#k25" x="276.9" y="472.9"/>
<use href="#k25" x="308.2" y="472.9"/>
<use href="#k25" x="339.6" y="472.9"/>
<use href="#k25" x="367.0" y="472.9"/>
<use href="#k25" x="395.3" y="472.9"/>
<use href="#k25" x="420.5" y="472.9"/>
<use href="#k25" x="445.2" y="472.9"/>
<use href="#k25" x="489.3" y="472.9"/>
<use href="#k25" x="527.5" y="472.9"/>
<use href="#k25" x="560.6" y="472.9"/>
<use href="#k25" x="588.5" y="472.9"/>
<use href="#k25" x="612.1" y="472.9"/>
<use href="#k25" x="631.8" y="472.9"/>
<use href="#k25" x="639.8" y="472.9"/>
<use href="#k25" x="647.0" y="472.9"/>
<use href="#k25" x="653.7" y="472.9"/>
<use href="#k25" x="659.8" y="472.9"/>
<use href="#k25" x="665.3" y="472.9"/>
<use href="#k25" x="670.4" y="472.9"/>
<use href="#k25" x="675.1" y="472.9"/>
<use href="#k25" x="679.4" y="472.9"/>
<use href="#k25" x="683.3" y="472.9"/>
<use href="#k25" x="686.8" y="472.9"/>
<use href="#k25" x="690.1" y="472.9"/>
<use href="#k25" x="693.1" y="472.9"/>
<use href="#k25" x="695.8" y="472.9"/>
<use href="#k25" x="698.3" y="472.9"/>
<use href="#k25" x="700.6" y="472.9"/>
<use href="#k25" x="702.7" y="472.9"/>
<use href="#k25" x="704.7" y="472.9"/>
<use href="#k25" x="706.4" y="472.9"/>
<use href="#k25" x="708.0" y="472.9"/>
<use href="#k25" x="709.5" y="472.9"/>
<use href="#k25" x="710.8" y="472.9"/>
<use href="#k25" x="712.1" y="472.9"/>
<use href="#k25" x="713.2" y="472.9"/>
<use href="#k25" x="714.2" y="472.9"/>
<use href="#k25" x="715.2" y="472.9"/>
<use href="#k25" x="716.0" y="472.9"/>
<use href="#k25" x="716.8" y="472.9"/>
<use href="#k25" x="717.5" y="472.9"/>
<use href="#k25" x="718.2" y="472.9"/>
<use href="#k25" x="718.8" y="472.9"/>
<use href="#k25" x="719.3" y="472.9"/>
<use href="#k25" x="719.9" y="472.9"/>
<use href="#k25" x="720.3" y="472.9"/>
<use href="#k25" x="720.7" y="472.9"/>
<use href="#k25" x="721.1" y="472.9"/>
<use href="#k25" x="721.5" y="472.9"/>
<use href="#k25" x="721.9" y="472.9"/>
<use href="#k25" x="722.3" y="472.9"/>
<use href="#k25" x="722.6" y="472.9"/>
<use href="#k25" x="723.0" y="472.9"/>
<use href="#k25" x="723.4" y="472.9"/>
<use href="#k25" x="723.8" y="472.9"/>
<use href="#k25" x="724.2" y="472.9"/>
<use href="#k25" x="724.5" y="472.9"/>
<use href="#k25" x="724.9" y="472.9"/>
<use href="#k25" x="725.3" y="472.9"/>
<use href="#k25" x="725.7" y="472.9"/>
<use href="#k25" x="726.1" y="472.9"/>
<use href="#k25" x="726.4" y="472.9"/>
<use href="#k25" x="726.8" y="472.9"/>
<use href="#k25" x="727.2" y="472.9"/>
<polyline points="227.5,651.6 231.9,652.4 254.9,656.6 276.9,660.4 308.2,665.7 339.6,670.9 367.0,675.3 395.3,680.0 420.5,684.2 445.2,688.4 466.9,692.2 489.3,696.3 508.5,699.8 527.5,703.3 544.0,706.3 560.6,709.2 574.4,711.6 588.5,713.9 600.5,715.8 612.1,717.5 622.7,719.0 631.8,720.3 643.2,721.8 653.4,723.5 662.0,725.1 669.4,726.7 675.6,728.4 681.0,730.0 685.5,731.6 689.3,733.2 692.6,735.0 695.3,737.2 697.7,739.5 699.7,741.6 701.4,743.8 702.8,745.9 704.1,747.6 705.1,749.1 706.0,750.3 706.8,751.3 707.4,752.0 708.0,752.7 708.4,753.3 708.9,753.9 709.4,754.4 709.9,755.0 710.3,755.6 710.5,755.7" fill="none" stroke="#FF8080" stroke-width="1.6" />
<polyline points="227.5,630.4 242.7,633.2 276.9,638.8 308.2,643.5 339.6,648.0 367.0,651.8 395.3,655.8 420.5,659.4 445.2,663.0 466.9,666.2 489.3,669.2 508.5,671.8 527.5,674.3 544.0,676.6 560.6,679.0 574.4,681.2 588.5,683.6 600.5,685.8 612.1,688.1 622.7,690.4 631.8,692.4 643.2,696.0 653.4,698.7 662.0,700.9 669.4,702.8 675.6,704.3 681.0,705.7 685.5,707.0 689.3,708.4 692.6,709.7 695.3,711.0 697.7,712.3 699.7,713.6 701.4,714.8 702.8,716.0 704.1,717.6 705.1,719.1 706.0,720.6 706.8,721.8 707.4,722.8 708.0,723.5 708.4,724.1 708.9,724.7 709.4,725.2 709.9,725.7 710.3,726.2 710.5,726.4" fill="none" stroke="#8080FF" stroke-width="1.6" />
<polyline points="227.5,606.7 242.7,609.3 276.9,614.6 308.2,619.1 339.6,623.4 367.0,627.0 395.3,630.7 420.5,633.9 445.2,637.2 466.9,640.0 489.3,642.6 508.5,644.8 527.5,647.0 544.0,648.9 560.6,651.0 574.4,652.7 588.5,654.6 600.5,656.4 612.1,658.2 622.7,659.9 631.8,661.5 643.2,664.1 653.4,666.9 662.0,669.4 669.4,671.5 675.6,673.2 681.0,674.8 685.5,676.3 689.3,677.7 692.6,679.0 695.3,680.3 697.7,681.5 699.7,682.7 701.4,683.9 702.8,685.1 704.1,686.6 705.1,688.1 706.0,689.5 706.8,690.8 707.4,692.0 708.0,693.0 708.4,693.9 708.9,694.8 709.4,695.9 709.9,697.0 710.3,698.1 710.5,698.5" fill="none" stroke="#FF80FF" stroke-width="1.6" />
<polyline points="227.5,584.7 242.7,587.1 276.9,591.5 308.2,595.1 339.6,598.5 367.0,601.3 395.3,604.3 420.5,607.0 445.2,609.9 466.9,612.4 489.3,615.0 508.5,617.3 527.5,619.5 544.0,621.5 560.6,623.6 588.5,627.4 612.1,630.9 631.8,634.2 643.0,636.5 643.8,636.7 644.5,636.8 645.3,637.0 646.1,637.2 646.8,637.4 647.6,637.5 648.3,637.7 649.1,637.9 649.9,638.1 650.6,638.3 651.4,638.5 652.1,638.6 652.9,638.8 653.7,639.0 654.4,639.2 655.2,639.4 655.9,639.6 656.7,639.8 657.5,640.0 658.2,640.2 659.0,640.4 659.7,640.6 660.5,640.7 661.3,640.9 662.0,641.1 662.8,641.3 663.5,641.5 664.3,641.7 665.1,641.9 665.8,642.1 666.6,642.3 667.3,642.5 668.1,642.7 668.9,642.8 669.6,643.0 670.4,643.2 671.1,643.4 671.9,643.6 672.7,643.8 673.4,644.0 674.2,644.1 674.9,644.3 675.7,644.5 676.5,644.7 677.2,644.9 678.0,645.1 678.7,645.4 679.5,645.6 680.3,645.8 681.0,646.0 681.8,646.3 682.5,646.5 683.3,646.8 684.1,647.0 684.8,647.3 685.6,647.6 686.3,647.8 687.1,648.1 687.9,648.4 688.6,648.7 689.4,649.0 690.1,649.4 690.9,649.7 691.7,650.1 692.4,650.4 693.2,650.8 693.9,651.2 694.7,651.6 695.5,652.1 696.2,652.5 697.0,653.0 697.7,653.6 698.5,654.1 699.3,654.8 700.0,655.4 700.8,656.2 701.5,657.0 702.3,657.8 703.1,658.7 703.8,659.7 704.6,660.8 705.3,662.0 706.1,663.3 706.9,664.9 707.6,666.6 708.4,668.5 709.1,670.6 709.9,673.3 710.5,675.7" fill="none" stroke="#C0C080" stroke-width="1.6" />
<polyline points="227.5,562.3 242.7,564.3 276.9,568.0 308.2,571.1 339.6,574.0 367.0,576.4 395.3,578.9 420.5,581.2 445.2,583.5 489.3,587.7 527.5,591.6 560.6,595.6 588.5,599.3 612.1,602.7 631.8,605.8 643.0,607.8 643.8,608.0 644.5,608.1 645.3,608.2 646.1,608.3 646.8,608.5 647.6,608.6 648.3,608.7 649.1,608.8 649.9,609.0 650.6,609.1 651.4,609.2 652.1,609.3 652.9,609.4 653.7,609.6 654.4,609.7 655.2,609.8 655.9,609.9 656.7,610.0 657.5,610.2 658.2,610.3 659.0,610.4 659.7,610.5 660.5,610.7 661.3,610.8 662.0,610.9 662.8,611.1 663.5,611.2 664.3,611.3 665.1,611.5 665.8,611.6 666.6,611.8 667.3,611.9 668.1,612.0 668.9,612.2 669.6,612.3 670.4,612.4 671.1,612.6 671.9,612.7 672.7,612.9 673.4,613.0 674.2,613.2 674.9,613.3 675.7,613.5 676.5,613.6 677.2,613.8 678.0,614.0 678.7,614.1 679.5,614.3 680.3,614.5 681.0,614.7 681.8,614.9 682.5,615.1 683.3,615.4 684.1,615.6 684.8,615.9 685.6,616.1 686.3,616.4 687.1,616.8 687.9,617.1 688.6,617.5 689.4,617.8 690.1,618.2 690.9,618.6 691.7,619.1 692.4,619.5 693.2,619.9 693.9,620.4 694.7,620.9 695.5,621.4 696.2,621.9 697.0,622.4 697.7,622.9 698.5,623.5 699.3,624.2 700.0,624.9 700.8,625.6 701.5,626.4 702.3,627.3 703.1,628.4 703.8,629.6 704.6,631.1 705.3,632.8 706.1,634.7 706.9,636.7 707.6,638.8 708.4,641.5 709.1,644.5 709.9,647.8 710.5,650.4" fill="none" stroke="#C080C0" stroke-width="1.6" />
<use href="#h26" x="231.9" y="652.4"/>
<use href="#h26" x="254.9" y="656.6"/>
<use href="#h26" x="276.9" y="660.4"/>
<use href="#h26" x="308.2" y="665.7"/>
<use href="#h26" x="339.6" y="670.9"/>
<use href="#h26" x="367.0" y="675.3"/>
<use href="#h26" x="395.3" y="680.0"/>
<use href="#h26" x="420.5" y="684.2"/>
<use href="#h26" x="445.2" y="688.4"/>
<use href="#h26" x="466.9" y="692.2"/>
<use href="#h26" x="489.3" y="696.3"/>
<use href="#h26" x="508.5" y="699.8"/>
<use href="#h26" x="527.5" y="703.3"/>
<use href="#h26" x="544.0" y="706.3"/>
<use href="#h26" x="560.6" y="709.2"/>
<use href="#h26" x="574.4" y="711.6"/>
<use href="#h26" x="588.5" y="713.9"/>
<use href="#h26" x="600.5" y="715.8"/>
<use href="#h26" x="612.1" y="717.5"/>
<use href="#h26" x="622.7" y="719.0"/>
<use href="#h26" x="631.8" y="720.3"/>
<use href="#h26" x="643.2" y="721.8"/>
<use href="#h26" x="653.4" y="723.5"/>
<use href="#h26" x="662.0" y="725.1"/>
<use href="#h26" x="669.4" y="726.7"/>
<use href="#h26" x="675.6" y="728.4"/>
<use href="#h26" x="681.0" y="730.0"/>
<use href="#h26" x="685.5" y="731.6"/>
<use href="#h26" x="689.3" y="733.2"/>
<use href="#h26" x="692.6" y="735.0"/>
<use href="#h26" x="695.3" y="737.2"/>
<use href="#h26" x="697.7" y="739.5"/>
<use href="#h26" x="699.7" y="741.6"/>
<use href="#h26" x="701.4" y="743.8"/>
<use href="#h26" x="702.8" y="745.9"/>
<use href="#h26" x="704.1" y="747.6"/>
<use href="#h26" x="705.1" y="749.1"/>
<use href="#h26" x="706.0" y="750.3"/>
<use href="#h26" x="706.8" y="751.3"/>
<use href="#h26" x="707.4" y="752.0"/>
<use href="#h26" x="708.0" y="752.7"/>
<use href="#h26" x="708.4" y="753.3"/>
<use href="#h26" x="708.9" y="753.9"/>
<use href="#h26" x="709.4" y="754.4"/>
<use href="#h26" x="709.9" y="755.0"/>
<use href="#h26" x="710.3" y="755.6"/>
<use href="#h26" x="710.5" y="755.7"/>
<use href="#h26" x="710.5" y="755.7"/>
<use href="#h26" x="710.5" y="756.2"/>
<use href="#h27" x="242.7" y="633.2"/>
<use href="#h27" x="276.9" y="638.8"/>
<use href="#h27" x="308.2" y="643.5"/>
<use href="#h27" x="339.6" y="648.0"/>
<use href="#h27" x="367.0" y="651.8"/>
<use href="#h27" x="395.3" y="655.8"/>
<use href="#h27" x="420.5" y="659.4"/>
<use href="#h27" x="445.2" y="663.0"/>
<use href="#h27" x="466.9" y="666.2"/>
<use href="#h27" x="489.3" y="669.2"/>
<use href="#h27" x="508.5" y="671.8"/>
<use href="#h27" x="527.5" y="674.3"/>
<use href="#h27" x="544.0" y="676.6"/>
<use href="#h27" x="560.6" y="679.0"/>
<use href="#h27" x="574.4" y="681.2"/>
<use href="#h27" x="588.5" y="683.6"/>
<use href="#h27" x="600.5" y="685.8"/>
<use href="#h27" x="612.1" y="688.1"/>
<use href="#h27" x="622.7" y="690.4"/>
<use href="#h27" x="631.8" y="692.4"/>
<use href="#h27" x="643.2" y="696.0"/>
<use href="#h27" x="653.4" y="698.7"/>
<use href="#h27" x="662.0" y="700.9"/>
<use href="#h27" x="669.4" y="702.8"/>
<use href="#h27" x="675.6" y="704.3"/>
<use href="#h27" x="681.0" y="705.7"/>
<use href="#h27" x="685.5" y="707.0"/>
<use href="#h27" x="689.3" y="708.4"/>
<use href="#h27" x="692.6" y="709.7"/>
<use href="#h27" x="695.3" y="711.0"/>
<use href="#h27" x="697.7" y="712.3"/>
<use href="#h27" x="699.7" y="713.6"/>
<use href="#h27" x="701.4" y="714.8"/>
<use href="#h27" x="702.8" y="716.0"/>
<use href="#h27" x="704.1" y="717.6"/>
<use href="#h27" x="705.1" y="719.1"/>
<use href="#h27" x="706.0" y="720.6"/>
<use href="#h27" x="706.8" y="721.8"/>
<use href="#h27" x="707.4" y="722.8"/>
<use href="#h27" x="708.0" y="723.5"/>
<use href="#h27" x="708.4" y="724.1"/>
<use href="#h27" x="708.9" y="724.7"/>
<use href="#h27" x="709.4" y="725.2"/>
<use href="#h27" x="709.9" y="725.7"/>
<use href="#h27" x="710.3" y="726.2"/>
<use href="#h27" x="710.5" y="726.4"/>
<use href="#h27" x="710.5" y="726.4"/>
<use href="#h27" x="710.5" y="727.8"/>
<use href="#h27" x="710.5" y="729.3"/>
<use href="#h27" x="710.5" y="730.7"/>
<use href="#h27" x="710.5" y="732.2"/>
<use href="#h27" x="710.5" y="733.7"/>
<use href="#h27" x="710.5" y="735.1"/>
<use href="#h27" x="710.5" y="736.6"/>
<use href="#h27" x="710.5" y="738.1"/>
<use href="#h27" x="710.5" y="739.5"/>
<use href="#h28" x="242.7" y="609.3"/>
<use href="#h28" x="276.9" y="614.6"/>
<use href="#h28" x="308.2" y="619.1"/>
<use href="#h28" x="339.6" y="623.4"/>
<use href="#h28" x="367.0" y="627.0"/>
<use href="#h28" x="395.3" y="630.7"/>
<use href="#h28" x="420.5" y="633.9"/>
<use href="#h28" x="445.2" y="637.2"/>
<use href="#h28" x="466.9" y="640.0"/>
<use href="#h28" x="489.3" y="642.6"/>
<use href="#h28" x="508.5" y="644.8"/>
<use href="#h28" x="527.5" y="647.0"/>
<use href="#h28" x="544.0" y="648.9"/>
<use href="#h28" x="560.6" y="651.0"/>
<use href="#h28" x="574.4" y="652.7"/>
<use href="#h28" x="588.5" y="654.6"/>
<use href="#h28" x="600.5" y="656.4"/>
<use href="#h28" x="612.1" y="658.2"/>
<use href="#h28" x="622.7" y="659.9"/>
<use href="#h28" x="631.8" y="661.5"/>
<use href="#h28" x="643.2" y="664.1"/>
<use href="#h28" x="653.4" y="666.9"/>
<use href="#h28" x="662.0" y="669.4"/>
<use href="#h28" x="669.4" y="671.5"/>
<use href="#h28" x="675.6" y="673.2"/>
<use href="#h28" x="681.0" y="674.8"/>
<use href="#h28" x="685.5" y="676.3"/>
<use href="#h28" x="689.3" y="677.7"/>
<use href="#h28" x="692.6" y="679.0"/>
<use href="#h28" x="695.3" y="680.3"/>
<use href="#h28" x="697.7" y="681.5"/>
<use href="#h28" x="699.7" y="682.7"/>
<use href="#h28" x="701.4" y="683.9"/>
<use href="#h28" x="702.8" y="685.1"/>
<use href="#h28" x="704.1" y="686.6"/>
<use href="#h28" x="705.1" y="688.1"/>
<use href="#h28" x="706.0" y="689.5"/>
<use href="#h28" x="706.8" y="690.8"/>
<use href="#h28" x="707.4" y="692.0"/>
<use href="#h28" x="708.0" y="693.0"/>
<use href="#h28" x="708.4" y="693.9"/>
<use href="#h28" x="708.9" y="694.8"/>
<use href="#h28" x="709.4" y="695.9"/>
<use href="#h28" x="709.9" y="697.0"/>
<use href="#h28" x="710.3" y="698.1"/>
<use href="#h28" x="710.5" y="698.5"/>
<use href="#h28" x="710.5" y="698.5"/>
<use href="#h28" x="710.5" y="700.0"/>
<use href="#h28" x="710.5" y="701.5"/>
<use href="#h28" x="710.5" y="702.9"/>
<use href="#h28" x="710.5" y="704.4"/>
<use href="#h28" x="710.5" y="705.9"/>
<use href="#h28" x="710.5" y="707.4"/>
<use href="#h28" x="710.5" y="708.9"/>
<use href="#h28" x="710.5" y="710.3"/>
<use href="#h28" x="710.5" y="711.8"/>
<use href="#h28" x="710.5" y="713.3"/>
<use href="#h28" x="710.5" y="714.8"/>
<use href="#h28" x="710.5" y="716.3"/>
<use href="#h28" x="710.5" y="717.7"/>
<use href="#h29" x="242.7" y="587.1"/>
<use href="#h29" x="276.9" y="591.5"/>
<use href="#h29" x="308.2" y="595.1"/>
<use href="#h29" x="339.6" y="598.5"/>
<use href="#h29" x="367.0" y="601.3"/>
<use href="#h29" x="395.3" y="604.3"/>
<use href="#h29" x="420.5" y="607.0"/>
<use href="#h29" x="445.2" y="609.9"/>
<use href="#h29" x="466.9" y="612.4"/>
<use href="#h29" x="489.3" y="615.0"/>
<use href="#h29" x="508.5" y="617.3"/>
<use href="#h29" x="527.5" y="619.5"/>
<use href="#h29" x="544.0" y="621.5"/>
<use href="#h29" x="560.6" y="623.6"/>
<use href="#h29" x="588.5" y="627.4"/>
<use href="#h29" x="612.1" y="630.9"/>
<use href="#h29" x="631.8" y="634.2"/>
<use href="#h29" x="643.0" y="636.5"/>
<use href="#h29" x="643.8" y="636.7"/>
<use href="#h29" x="644.5" y="636.8"/>
<use href="#h29" x="645.3" y="637.0"/>
<use href="#h29" x="646.1" y="637.2"/>
<use href="#h29" x="646.8" y="637.4"/>
<use href="#h29" x="647.6" y="637.5"/>
<use href="#h29" x="648.3" y="637.7"/>
<use href="#h29" x="649.1" y="637.9"/>
<use href="#h29" x="649.9" y="638.1"/>
<use href="#h29" x="650.6" y="638.3"/>
<use href="#h29" x="651.4" y="638.5"/>
<use href="#h29" x="652.1" y="638.6"/>
<use href="#h29" x="652.9" y="638.8"/>
<use href="#h29" x="653.7" y="639.0"/>
<use href="#h29" x="654.4" y="639.2"/>
<use href="#h29" x="655.2" y="639.4"/>
<use href="#h29" x="655.9" y="639.6"/>
<use href="#h29" x="656.7" y="639.8"/>
<use href="#h29" x="657.5" y="640.0"/>
<use href="#h29" x="658.2" y="640.2"/>
<use href="#h29" x="659.0" y="640.4"/>
<use href="#h29" x="659.7" y="640.6"/>
<use href="#h29" x="660.5" y="640.7"/>
<use href="#h29" x="661.3" y="640.9"/>
<use href="#h29" x="662.0" y="641.1"/>
<use href="#h29" x="662.8" y="641.3"/>
<use href="#h29" x="663.5" y="641.5"/>
<use href="#h29" x="664.3" y="641.7"/>
<use href="#h29" x="665.1" y="641.9"/>
<use href="#h29" x="665.8" y="642.1"/>
<use href="#h29" x="666.6" y="642.3"/>
<use href="#h29" x="667.3" y="642.5"/>
<use href="#h29" x="668.1" y="642.7"/>
<use href="#h29" x="668.9" y="642.8"/>
<use href="#h29" x="669.6" y="643.0"/>
<use href="#h29" x="670.4" y="643.2"/>
<use href="#h29" x="671.1" y="643.4"/>
<use href="#h29" x="671.9" y="643.6"/>
<use href="#h29" x="672.7" y="643.8"/>
<use href="#h29" x="673.4" y="644.0"/>
<use href="#h29" x="674.2" y="644.1"/>
<use href="#h29" x="674.9" y="644.3"/>
<use href="#h29" x="675.7" y="644.5"/>
<use href="#h29" x="676.5" y="644.7"/>
<use href="#h29" x="677.2" y="644.9"/>
<use href="#h29" x="678.0" y="645.1"/>
<use href="#h29" x="678.7" y="645.4"/>
<use href="#h29" x="679.5" y="645.6"/>
<use href="#h29" x="680.3" y="645.8"/>
<use href="#h29" x="681.0" y="646.0"/>
<use href="#h29" x="681.8" y="646.3"/>
<use href="#h29" x="682.5" y="646.5"/>
<use href="#h29" x="683.3" y="646.8"/>
<use href="#h29" x="684.1" y="647.0"/>
<use href="#h29" x="684.8" y="647.3"/>
<use href="#h29" x="685.6" y="647.6"/>
<use href="#h29" x="686.3" y="647.8"/>
<use href="#h29" x="687.1" y="648.1"/>
<use href="#h29" x="687.9" y="648.4"/>
<use href="#h29" x="688.6" y="648.7"/>
<use href="#h29" x="689.4" y="649.0"/>
<use href="#h29" x="690.1" y="649.4"/>
<use href="#h29" x="690.9" y="649.7"/>
<use href="#h29" x="691.7" y="650.1"/>
<use href="#h29" x="692.4" y="650.4"/>
<use href="#h29" x="693.2" y="650.8"/>
<use href="#h29" x="693.9" y="651.2"/>
<use href="#h29" x="694.7" y="651.6"/>
<use href="#h29" x="695.5" y="652.1"/>
<use href="#h29" x="696.2" y="652.5"/>
<use href="#h29" x="697.0" y="653.0"/>
<use href="#h29" x="697.7" y="653.6"/>
<use href="#h29" x="698.5" y="654.1"/>
<use href="#h29" x="699.3" y="654.8"/>
<use href="#h29" x="700.0" y="655.4"/>
<use href="#h29" x="700.8" y="656.2"/>
<use href="#h29" x="701.5" y="657.0"/>
<use href="#h29" x="702.3" y="657.8"/>
<use href="#h29" x="703.1" y="658.7"/>
<use href="#h29" x="703.8" y="659.7"/>
<use href="#h29" x="704.6" y="660.8"/>
<use href="#h29" x="705.3" y="662.0"/>
<use href="#h29" x="706.1" y="663.3"/>
<use href="#h29" x="706.9" y="664.9"/>
<use href="#h29" x="707.6" y="666.6"/>
<use href="#h29" x="708.4" y="668.5"/>
<use href="#h29" x="709.1" y="670.6"/>
<use href="#h29" x="709.9" y="673.3"/>
<use href="#h29" x="710.5" y="675.7"/>
<use href="#h29" x="710.5" y="675.7"/>
<use href="#h29" x="710.5" y="677.1"/>
<use href="#h29" x="710.5" y="678.6"/>
<use href="#h29" x="710.5" y="680.0"/>
<use href="#h29" x="710.5" y="681.5"/>
<use href="#h29" x="710.5" y="682.9"/>
<use href="#h29" x="710.5" y="684.3"/>
<use href="#h29" x="710.5" y="685.8"/>
<use href="#h29" x="710.5" y="687.2"/>
<use href="#h29" x="710.5" y="688.7"/>
<use href="#h29" x="710.5" y="690.1"/>
<use href="#h29" x="710.5" y="691.6"/>
<use href="#h29" x="710.5" y="693.0"/>
<use href="#h29" x="710.5" y="694.4"/>
<use href="#h30" x="242.7" y="564.3"/>
<use href="#h30" x="276.9" y="568.0"/>
<use href="#h30" x="308.2" y="571.1"/>
<use href="#h30" x="339.6" y="574.0"/>
<use href="#h30" x="367.0" y="576.4"/>
<use href="#h30" x="395.3" y="578.9"/>
<use href="#h30" x="420.5" y="581.2"/>
<use href="#h30" x="445.2" y="583.5"/>
<use href="#h30" x="489.3" y="587.7"/>
<use href="#h30" x="527.5" y="591.6"/>
<use href="#h30" x="560.6" y="595.6"/>
<use href="#h30" x="588.5" y="599.3"/>
<use href="#h30" x="612.1" y="602.7"/>
<use href="#h30" x="631.8" y="605.8"/>
<use href="#h30" x="643.0" y="607.8"/>
<use href="#h30" x="643.8" y="608.0"/>
<use href="#h30" x="644.5" y="608.1"/>
<use href="#h30" x="645.3" y="608.2"/>
<use href="#h30" x="646.1" y="608.3"/>
<use href="#h30" x="646.8" y="608.5"/>
<use href="#h30" x="647.6" y="608.6"/>
<use href="#h30" x="648.3" y="608.7"/>
<use href="#h30" x="649.1" y="608.8"/>
<use href="#h30" x="649.9" y="609.0"/>
<use href="#h30" x="650.6" y="609.1"/>
<use href="#h30" x="651.4" y="609.2"/>
<use href="#h30" x="652.1" y="609.3"/>
<use href="#h30" x="652.9" y="609.4"/>
<use href="#h30" x="653.7" y="609.6"/>
<use href="#h30" x="654.4" y="609.7"/>
<use href="#h30" x="655.2" y="609.8"/>
<use href="#h30" x="655.9" y="609.9"/>
<use href="#h30" x="656.7" y="610.0"/>
<use href="#h30" x="657.5" y="610.2"/>
<use href="#h30" x="658.2" y="610.3"/>
<use href="#h30" x="659.0" y="610.4"/>
<use href="#h30" x="659.7" y="610.5"/>
<use href="#h30" x="660.5" y="610.7"/>
<use href="#h30" x="661.3" y="610.8"/>
<use href="#h30" x="662.0" y="610.9"/>
<use href="#h30" x="662.8" y="611.1"/>
<use href="#h30" x="663.5" y="611.2"/>
<use href="#h30" x="664.3" y="611.3"/>
<use href="#h30" x="665.1" y="611.5"/>
<use href="#h30" x="665.8" y="611.6"/>
<use href="#h30" x="666.6" y="611.8"/>
<use href="#h30" x="667.3" y="611.9"/>
<use href="#h30" x="668.1" y="612.0"/>
<use href="#h30" x="668.9" y="612.2"/>
<use href="#h30" x="669.6" y="612.3"/>
<use href="#h30" x="670.4" y="612.4"/>
<use href="#h30" x="671.1" y="612.6"/>
<use href="#h30" x="671.9" y="612.7"/>
<use href="#h30" x="672.7" y="612.9"/>
<use href="#h30" x="673.4" y="613.0"/>
<use href="#h30" x="674.2" y="613.2"/>
<use href="#h30" x="674.9" y="613.3"/>
<use href="#h30" x="675.7" y="613.5"/>
<use href="#h30" x="676.5" y="613.6"/>
<use href="#h30" x="677.2" y="613.8"/>
<use href="#h30" x="678.0" y="614.0"/>
<use href="#h30" x="678.7" y="614.1"/>
<use href="#h30" x="679.5" y="614.3"/>
<use href="#h30" x="680.3" y="614.5"/>
<use href="#h30" x="681.0" y="614.7"/>
<use href="#h30" x="681.8" y="614.9"/>
<use href="#h30" x="682.5" y="615.1"/>
<use href="#h30" x="683.3" y="615.4"/>
<use href="#h30" x="684.1" y="615.6"/>
<use href="#h30" x="684.8" y="615.9"/>
<use href="#h30" x="685.6" y="616.1"/>
<use href="#h30" x="686.3" y="616.4"/>
<use href="#h30" x="687.1" y="616.8"/>
<use href="#h30" x="687.9" y="617.1"/>
<use href="#h30" x="688.6" y="617.5"/>
<use href="#h30" x="689.4" y="617.8"/>
<use href="#h30" x="690.1" y="618.2"/>
<use href="#h30" x="690.9" y="618.6"/>
<use href="#h30" x="691.7" y="619.1"/>
<use href="#h30" x="692.4" y="619.5"/>
<use href="#h30" x="693.2" y="619.9"/>
<use href="#h30" x="693.9" y="620.4"/>
<use href="#h30" x="694.7" y="620.9"/>
<use href="#h30" x="695.5" y="621.4"/>
<use href="#h30" x="696.2" y="621.9"/>
<use href="#h30" x="697.0" y="622.4"/>
<use href="#h30" x="697.7" y="622.9"/>
<use href="#h30" x="698.5" y="623.5"/>
<use href="#h30" x="699.3" y="624.2"/>
<use href="#h30" x="700.0" y="624.9"/>
<use href="#h30" x="700.8" y="625.6"/>
<use href="#h30" x="701.5" y="626.4"/>
<use href="#h30" x="702.3" y="627.3"/>
<use href="#h30" x="703.1" y="628.4"/>
<use href="#h30" x="703.8" y="629.6"/>
<use href="#h30" x="704.6" y="631.1"/>
<use href="#h30" x="705.3" y="632.8"/>
<use href="#h30" x="706.1" y="634.7"/>
<use href="#h30" x="706.9" y="636.7"/>
<use href="#h30" x="707.6" y="638.8"/>
<use href="#h30" x="708.4" y="641.5"/>
<use href="#h30" x="709.1" y="644.5"/>
<use href="#h30" x="709.9" y="647.8"/>
<use href="#h30" x="710.5" y="650.4"/>
<use href="#h30" x="710.5" y="650.4"/>
<use href="#h30" x="710.5" y="651.9"/>
<use href="#h30" x="710.5" y="653.3"/>
<use href="#h30" x="710.5" y="654.8"/>
<use href="#h30" x="710.5" y="656.3"/>
<use href="#h30" x="710.5" y="657.8"/>
<use href="#h30" x="710.5" y="659.3"/>
<use href="#h30" x="710.5" y="660.8"/>
<use href="#h30" x="710.5" y="662.2"/>
<use href="#h30" x="710.5" y="663.7"/>
<use href="#h30" x="710.5" y="665.2"/>
<use href="#h30" x="710.5" y="666.7"/>
<use href="#h30" x="710.5" y="668.2"/>
<use href="#h30" x="710.5" y="669.7"/>
<use href="#h30" x="710.5" y="671.1"/>
<use href="#k31" x="231.9" y="652.4"/>
<use href="#k31" x="254.9" y="656.6"/>
<use href="#k31" x="276.9" y="660.4"/>
<use href="#k31" x="308.2" y="665.7"/>
<use href="#k31" x="339.6" y="670.9"/>
<use href="#k31" x="367.0" y="675.3"/>
<use href="#k31" x="395.3" y="680.0"/>
<use href="#k31" x="420.5" y="684.2"/>
<use href="#k31" x="445.2" y="688.4"/>
<use href="#k31" x="466.9" y="692.2"/>
<use href="#k31" x="489.3" y="696.3"/>
<use href="#k31" x="508.5" y="699.8"/>
<use href="#k31" x="527.5" y="703.3"/>
<use href="#k31" x="544.0" y="706.3"/>
<use href="#k31" x="560.6" y="709.2"/>
<use href="#k31" x="574.4" y="711.6"/>
<use href="#k31" x="588.5" y="713.9"/>
<use href="#k31" x="600.5" y="715.8"/>
<use href="#k31" x="612.1" y="717.5"/>
<use href="#k31" x="622.7" y="719.0"/>
<use href="#k31" x="631.8" y="720.3"/>
<use href="#k31" x="643.2" y="721.8"/>
<use href="#k31" x="653.4" y="723.5"/>
<use href="#k31" x="662.0" y="725.1"/>
<use href="#k31" x="669.4" y="726.7"/>
<use href="#k31" x="675.6" y="728.4"/>
<use href="#k31" x="681.0" y="730.0"/>
<use href="#k31" x="685.5" y="731.6"/>
<use href="#k31" x="689.3" y="733.2"/>
<use href="#k31" x="692.6" y="735.0"/>
<use href="#k31" x="695.3" y="737.2"/>
<use href="#k31" x="697.7" y="739.5"/>
<use href="#k31" x="699.7" y="741.6"/>
<use href="#k31" x="701.4" y="743.8"/>
<use href="#k31" x="702.8" y="745.9"/>
<use href="#k31" x="704.1" y="747.6"/>
<use href="#k31" x="705.1" y="749.1"/>
<use href="#k31" x="706.0" y="750.3"/>
<use href="#k31" x="706.8" y="751.3"/>
<use href="#k31" x="707.4" y="752.0"/>
<use href="#k31" x="708.0" y="752.7"/>
<use href="#k31" x="708.4" y="753.3"/>
<use href="#k31" x="708.9" y="753.9"/>
<use href="#k31" x="709.4" y="754.4"/>
<use href="#k31" x="709.9" y="755.0"/>
<use href="#k31" x="710.3" y="755.6"/>
<use href="#k31" x="710.5" y="755.7"/>
<use href="#k31" x="710.5" y="755.7"/>
<use href="#k31" x="710.5" y="756.2"/>
<use href="#k32" x="242.7" y="633.2"/>
<use href="#k32" x="276.9" y="638.8"/>
<use href="#k32" x="308.2" y="643.5"/>
<use href="#k32" x="339.6" y="648.0"/>
<use href="#k32" x="367.0" y="651.8"/>
<use href="#k32" x="395.3" y="655.8"/>
<use href="#k32" x="420.5" y="659.4"/>
<use href="#k32" x="445.2" y="663.0"/>
<use href="#k32" x="466.9" y="666.2"/>
<use href="#k32" x="489.3" y="669.2"/>
<use href="#k32" x="508.5" y="671.8"/>
<use href="#k32" x="527.5" y="674.3"/>
<use href="#k32" x="544.0" y="676.6"/>
<use href="#k32" x="560.6" y="679.0"/>
<use href="#k32" x="574.4" y="681.2"/>
<use href="#k32" x="588.5" y="683.6"/>
<use href="#k32" x="600.5" y="685.8"/>
<use href="#k32" x="612.1" y="688.1"/>
<use href="#k32" x="622.7" y="690.4"/>
<use href="#k32" x="631.8" y="692.4"/>
<use href="#k32" x="643.2" y="696.0"/>
<use href="#k32" x="653.4" y="698.7"/>
<use href="#k32" x="662.0" y="700.9"/>
<use href="#k32" x="669.4" y="702.8"/>
<use href="#k32" x="675.6" y="704.3"/>
<use href="#k32" x="681.0" y="705.7"/>
<use href="#k32" x="685.5" y="707.0"/>
<use href="#k32" x="689.3" y="708.4"/>
<use href="#k32" x="692.6" y="709.7"/>
<use href="#k32" x="695.3" y="711.0"/>
<use href="#k32" x="697.7" y="712.3"/>
<use href="#k32" x="699.7" y="713.6"/>
<use href="#k32" x="701.4" y="714.8"/>
<use href="#k32" x="702.8" y="716.0"/>
<use href="#k32" x="704.1" y="717.6"/>
<use href="#k32" x="705.1" y="719.1"/>
<use href="#k32" x="706.0" y="720.6"/>
<use href="#k32" x="706.8" y="721.8"/>
<use href="#k32" x="707.4" y="722.8"/>
<use href="#k32" x="708.0" y="723.5"/>
<use href="#k32" x="708.4" y="724.1"/>
<use href="#k32" x="708.9" y="724.7"/>
<use href="#k32" x="709.4" y="725.2"/>
<use href="#k32" x="709.9" y="725.7"/>
<use href="#k32" x="710.3" y="726.2"/>
<use href="#k32" x="710.5" y="726.4"/>
<use href="#k32" x="710.5" y="726.4"/>
<use href="#k32" x="710.5" y="727.8"/>
<use href="#k32" x="710.5" y="729.3"/>
<use href="#k32" x="710.5" y="730.7"/>
<use href="#k32" x="710.5" y="732.2"/>
<use href="#k32" x="710.5" y="733.7"/>
<use href="#k32" x="710.5" y="735.1"/>
<use href="#k32" x="710.5" y="736.6"/>
<use href="#k32" x="710.5" y="738.1"/>
<use href="#k32" x="710.5" y="739.5"/>
<use href="#k33" x="242.7" y="609.3"/>
<use href="#k33" x="276.9" y="614.6"/>
<use href="#k33" x="308.2" y="619.1"/>
<use href="#k33" x="339.6" y="623.4"/>
<use href="#k33" x="367.0" y="627.0"/>
<use href="#k33" x="395.3" y="630.7"/>
<use href="#k33" x="420.5" y="633.9"/>
<use href="#k33" x="445.2" y="637.2"/>
<use href="#k33" x="466.9" y="640.0"/>
<use href="#k33" x="489.3" y="642.6"/>
<use href="#k33" x="508.5" y="644.8"/>
<use href="#k33" x="527.5" y="647.0"/>
<use href="#k33" x="544.0" y="648.9"/>
<use href="#k33" x="560.6" y="651.0"/>
<use href="#k33" x="574.4" y="652.7"/>
<use href="#k33" x="588.5" y="654.6"/>
<use href="#k33" x="600.5" y="656.4"/>
<use href="#k33" x="612.1" y="658.2"/>
<use href="#k33" x="622.7" y="659.9"/>
<use href="#k33" x="631.8" y="661.5"/>
<use href="#k33" x="643.2" y="664.1"/>
<use href="#k33" x="653.4" y="666.9"/>
<use href="#k33" x="662.0" y="669.4"/>
<use href="#k33" x="669.4" y="671.5"/>
<use href="#k33" x="675.6" y="673.2"/>
<use href="#k33" x="681.0" y="674.8"/>
<use href="#k33" x="685.5" y="676.3"/>
<use href="#k33" x="689.3" y="677.7"/>
<use href="#k33" x="692.6" y="679.0"/>
<use href="#k33" x="695.3" y="680.3"/>
<use href="#k33" x="697.7" y="681.5"/>
<use href="#k33" x="699.7" y="682.7"/>
<use href="#k33" x="701.4" y="683.9"/>
<use href="#k33" x="702.8" y="685.1"/>
<use href="#k33" x="704.1" y="686.6"/>
<use href="#k33" x="705.1" y="688.1"/>
<use href="#k33" x="706.0" y="689.5"/>
<use href="#k33" x="706.8" y="690.8"/>
<use href="#k33" x="707.4" y="692.0"/>
<use href="#k33" x="708.0" y="693.0"/>
<use href="#k33" x="708.4" y="693.9"/>
<use href="#k33" x="708.9" y="694.8"/>
<use href="#k33" x="709.4" y="695.9"/>
<use href="#k33" x="709.9" y="697.0"/>
<use href="#k33" x="710.3" y="698.1"/>
<use href="#k33" x="710.5" y="698.5"/>
<use href="#k33" x="710.5" y="698.5"/>
<use href="#k33" x="710.5" y="700.0"/>
<use href="#k33" x="710.5" y="701.5"/>
<use href="#k33" x="710.5" y="702.9"/>
<use href="#k33" x="710.5" y="704.4"/>
<use href="#k33" x="710.5" y="705.9"/>
<use href="#k33" x="710.5" y="707.4"/>
<use href="#k33" x="710.5" y="708.9"/>
<use href="#k33" x="710.5" y="710.3"/>
<use href="#k33" x="710.5" y="711.8"/>
<use href="#k33" x="710.5" y="713.3"/>
<use href="#k33" x="710.5" y="714.8"/>
<use href="#k33" x="710.5" y="716.3"/>
<use href="#k33" x="710.5" y="717.7"/>
<use href="#k34" x="242.7" y="587.1"/>
<use href="#k34" x="276.9" y="591.5"/>
<use href="#k34" x="308.2" y="595.1"/>
<use href="#k34" x="339.6" y="598.5"/>
<use href="#k34" x="367.0" y="601.3"/>
<use href="#k34" x="395.3" y="604.3"/>
<use href="#k34" x="420.5" y="607.0"/>
<use href="#k34" x="445.2" y="609.9"/>
<use href="#k34" x="466.9" y="612.4"/>
<use href="#k34" x="489.3" y="615.0"/>
<use href="#k34" x="508.5" y="617.3"/>
<use href="#k34" x="527.5" y="619.5"/>
<use href="#k34" x="544.0" y="621.5"/>
<use href="#k34" x="560.6" y="623.6"/>
<use href="#k34" x="588.5" y="627.4"/>
<use href="#k34" x="612.1" y="630.9"/>
<use href="#k34" x="631.8" y="634.2"/>
<use href="#k34" x="643.0" y="636.5"/>
<use href="#k34" x="643.8" y="636.7"/>
<use href="#k34" x="644.5" y="636.8"/>
<use href="#k34" x="645.3" y="637.0"/>
<use href="#k34" x="646.1" y="637.2"/>
<use href="#k34" x="646.8" y="637.4"/>
<use href="#k34" x="647.6" y="637.5"/>
<use href="#k34" x="648.3" y="637.7"/>
<use href="#k34" x="649.1" y="637.9"/>
<use href="#k34" x="649.9" y="638.1"/>
<use href="#k34" x="650.6" y="638.3"/>
<use href="#k34" x="651.4" y="638.5"/>
<use href="#k34" x="652.1" y="638.6"/>
<use href="#k34" x="652.9" y="638.8"/>
<use href="#k34" x="653.7" y="639.0"/>
<use href="#k34" x="654.4" y="639.2"/>
<use href="#k34" x="655.2" y="639.4"/>
<use href="#k34" x="655.9" y="639.6"/>
<use href="#k34" x="656.7" y="639.8"/>
<use href="#k34" x="657.5" y="640.0"/>
<use href="#k34" x="658.2" y="640.2"/>
<use href="#k34" x="659.0" y="640.4"/>
<use href="#k34" x="659.7" y="640.6"/>
<use href="#k34" x="660.5" y="640.7"/>
<use href="#k34" x="661.3" y="640.9"/>
<use href="#k34" x="662.0" y="641.1"/>
<use href="#k34" x="662.8" y="641.3"/>
<use href="#k34" x="663.5" y="641.5"/>
<use href="#k34" x="664.3" y="641.7"/>
<use href="#k34" x="665.1" y="641.9"/>
<use href="#k34" x="665.8" y="642.1"/>
<use href="#k34" x="666.6" y="642.3"/>
<use href="#k34" x="667.3" y="642.5"/>
<use href="#k34" x="668.1" y="642.7"/>
<use href="#k34" x="668.9" y="642.8"/>
<use href="#k34" x="669.6" y="643.0"/>
<use href="#k34" x="670.4" y="643.2"/>
<use href="#k34" x="671.1" y="643.4"/>
<use href="#k34" x="671.9" y="643.6"/>
<use href="#k34" x="672.7" y="643.8"/>
<use href="#k34" x="673.4" y="644.0"/>
<use href="#k34" x="674.2" y="644.1"/>
<use href="#k34" x="674.9" y="644.3"/>
<use href="#k34" x="675.7" y="644.5"/>
<use href="#k34" x="676.5" y="644.7"/>
<use href="#k34" x="677.2" y="644.9"/>
<use href="#k34" x="678.0" y="645.1"/>
<use href="#k34" x="678.7" y="645.4"/>
<use href="#k34" x="679.5" y="645.6"/>
<use href="#k34" x="680.3" y="645.8"/>
<use href="#k34" x="681.0" y="646.0"/>
<use href="#k34" x="681.8" y="646.3"/>
<use href="#k34" x="682.5" y="646.5"/>
<use href="#k34" x="683.3" y="646.8"/>
<use href="#k34" x="684.1" y="647.0"/>
<use href="#k34" x="684.8" y="647.3"/>
<use href="#k34" x="685.6" y="647.6"/>
<use href="#k34" x="686.3" y="647.8"/>
<use href="#k34" x="687.1" y="648.1"/>
<use href="#k34" x="687.9" y="648.4"/>
<use href="#k34" x="688.6" y="648.7"/>
<use href="#k34" x="689.4" y="649.0"/>
<use href="#k34" x="690.1" y="649.4"/>
<use href="#k34" x="690.9" y="649.7"/>
<use href="#k34" x="691.7" y="650.1"/>
<use href="#k34" x="692.4" y="650.4"/>
<use href="#k34" x="693.2" y="650.8"/>
<use href="#k34" x="693.9" y="651.2"/>
<use href="#k34" x="694.7" y="651.6"/>
<use href="#k34" x="695.5" y="652.1"/>
<use href="#k34" x="696.2" y="652.5"/>
<use href="#k34" x="697.0" y="653.0"/>
<use href="#k34" x="697.7" y="653.6"/>
<use href="#k34" x="698.5" y="654.1"/>
<use href="#k34" x="699.3" y="654.8"/>
<use href="#k34" x="700.0" y="655.4"/>
<use href="#k34" x="700.8" y="656.2"/>
<use href="#k34" x="701.5" y="657.0"/>
<use href="#k34" x="702.3" y="657.8"/>
<use href="#k34" x="703.1" y="658.7"/>
<use href="#k34" x="703.8" y="659.7"/>
<use href="#k34" x="704.6" y="660.8"/>
<use href="#k34" x="705.3" y="662.0"/>
<use href="#k34" x="706.1" y="663.3"/>
<use href="#k34" x="706.9" y="664.9"/>
<use href="#k34" x="707.6" y="666.6"/>
<use href="#k34" x="708.4" y="668.5"/>
<use href="#k34" x="709.1" y="670.6"/>
<use href="#k34" x="709.9" y="673.3"/>
<use href="#k34" x="710.5" y="675.7"/>
<use href="#k34" x="710.5" y="675.7"/>
<use href="#k34" x="710.5" y="677.1"/>
<use href="#k34" x="710.5" y="678.6"/>
<use href="#k34" x="710.5" y="680.0"/>
<use href="#k34" x="710.5" y="681.5"/>
<use href="#k34" x="710.5" y="682.9"/>
<use href="#k34" x="710.5" y="684.3"/>
<use href="#k34" x="710.5" y="685.8"/>
<use href="#k34" x="710.5" y="687.2"/>
<use href="#k34" x="710.5" y="688.7"/>
<use href="#k34" x="710.5" y="690.1"/>
<use href="#k34" x="710.5" y="691.6"/>
<use href="#k34" x="710.5" y="693.0"/>
<use href="#k34" x="710.5" y="694.4"/>
<use href="#k35" x="242.7" y="564.3"/>
<use href="#k35" x="276.9" y="568.0"/>
<use href="#k35" x="308.2" y="571.1"/>
<use href="#k35" x="339.6" y="574.0"/>
<use href="#k35" x="367.0" y="576.4"/>
<use href="#k35" x="395.3" y="578.9"/>
<use href="#k35" x="420.5" y="581.2"/>
<use href="#k35" x="445.2" y="583.5"/>
<use href="#k35" x="489.3" y="587.7"/>
<use href="#k35" x="527.5" y="591.6"/>
<use href="#k35" x="560.6" y="595.6"/>
<use href="#k35" x="588.5" y="599.3"/>
<use href="#k35" x="612.1" y="602.7"/>
<use href="#k35" x="631.8" y="605.8"/>
<use href="#k35" x="643.0" y="607.8"/>
<use href="#k35" x="643.8" y="608.0"/>
<use href="#k35" x="644.5" y="608.1"/>
<use href="#k35" x="645.3" y="608.2"/>
<use href="#k35" x="646.1" y="608.3"/>
<use href="#k35" x="646.8" y="608.5"/>
<use href="#k35" x="647.6" y="608.6"/>
<use href="#k35" x="648.3" y="608.7"/>
<use href="#k35" x="649.1" y="608.8"/>
<use href="#k35" x="649.9" y="609.0"/>
<use href="#k35" x="650.6" y="609.1"/>
<use href="#k35" x="651.4" y="609.2"/>
<use href="#k35" x="652.1" y="609.3"/>
<use href="#k35" x="652.9" y="609.4"/>
<use href="#k35" x="653.7" y="609.6"/>
<use href="#k35" x="654.4" y="609.7"/>
<use href="#k35" x="655.2" y="609.8"/>
<use href="#k35" x="655.9" y="609.9"/>
<use href="#k35" x="656.7" y="610.0"/>
<use href="#k35" x="657.5" y="610.2"/>
<use href="#k35" x="658.2" y="610.3"/>
<use href="#k35" x="659.0" y="610.4"/>
<use href="#k35" x="659.7" y="610.5"/>
<use href="#k35" x="660.5" y="610.7"/>
<use href="#k35" x="661.3" y="610.8"/>
<use href="#k35" x="662.0" y="610.9"/>
<use href="#k35" x="662.8" y="611.1"/>
<use href="#k35" x="663.5" y="611.2"/>
<use href="#k35" x="664.3" y="611.3"/>
<use href="#k35" x="665.1" y="611.5"/>
<use href="#k35" x="665.8" y="611.6"/>
<use href="#k35" x="666.6" y="611.8"/>
<use href="#k35" x="667.3" y="611.9"/>
<use href="#k35" x="668.1" y="612.0"/>
<use href="#k35" x="668.9" y="612.2"/>
<use href="#k35" x="669.6" y="612.3"/>
<use href="#k35" x="670.4" y="612.4"/>
<use href="#k35" x="671.1" y="612.6"/>
<use href="#k35" x="671.9" y="612.7"/>
<use href="#k35" x="672.7" y="612.9"/>
<use href="#k35" x="673.4" y="613.0"/>
<use href="#k35" x="674.2" y="613.2"/>
<use href="#k35" x="674.9" y="613.3"/>
<use href="#k35" x="675.7" y="613.5"/>
<use href="#k35" x="676.5" y="613.6"/>
<use href="#k35" x="677.2" y="613.8"/>
<use href="#k35" x="678.0" y="614.0"/>
<use href="#k35" x="678.7" y="614.1"/>
<use href="#k35" x="679.5" y="614.3"/>
<use href="#k35" x="680.3" y="614.5"/>
<use href="#k35" x="681.0" y="614.7"/>
<use href="#k35" x="681.8" y="614.9"/>
<use href="#k35" x="682.5" y="615.1"/>
<use href="#k35" x="683.3" y="615.4"/>
<use href="#k35" x="684.1" y="615.6"/>
<use href="#k35" x="684.8" y="615.9"/>
<use href="#k35" x="685.6" y="616.1"/>
<use href="#k35" x="686.3" y="616.4"/>
<use href="#k35" x="687.1" y="616.8"/>
<use href="#k35" x="687.9" y="617.1"/>
<use href="#k35" x="688.6" y="617.5"/>
<use href="#k35" x="689.4" y="617.8"/>
<use href="#k35" x="690.1" y="618.2"/>
<use href="#k35" x="690.9" y="618.6"/>
<use href="#k35" x="691.7" y="619.1"/>
<use href="#k35" x="692.4" y="619.5"/>
<use href="#k35" x="693.2" y="619.9"/>
<use href="#k35" x="693.9" y="620.4"/>
<use href="#k35" x="694.7" y="620.9"/>
<use href="#k35" x="695.5" y="621.4"/>
<use href="#k35" x="696.2" y="621.9"/>
<use href="#k35" x="697.0" y="622.4"/>
<use href="#k35" x="697.7" y="622.9"/>
<use href="#k35" x="698.5" y="623.5"/>
<use href="#k35" x="699.3" y="624.2"/>
<use href="#k35" x="700.0" y="624.9"/>
<use href="#k35" x="700.8" y="625.6"/>
<use href="#k35" x="701.5" y="626.4"/>
<use href="#k35" x="702.3" y="627.3"/>
<use href="#k35" x="703.1" y="628.4"/>
<use href="#k35" x="703.8" y="629.6"/>
<use href="#k35" x="704.6" y="631.1"/>
<use href="#k35" x="705.3" y="632.8"/>
<use href="#k35" x="706.1" y="634.7"/>
<use href="#k35" x="706.9" y="636.7"/>
<use href="#k35" x="707.6" y="638.8"/>
<use href="#k35" x="708.4" y="641.5"/>
<use href="#k35" x="709.1" y="644.5"/>
<use href="#k35" x="709.9" y="647.8"/>
<use href="#k35" x="710.5" y="650.4"/>
<use href="#k35" x="710.5" y="650.4"/>
<use href="#k35" x="710.5" y="651.9"/>
<use href="#k35" x="710.5" y="653.3"/>
<use href="#k35" x="710.5" y="654.8"/>
<use href="#k35" x="710.5" y="656.3"/>
<use href="#k35" x="710.5" y="657.8"/>
<use href="#k35" x="710.5" y="659.3"/>
<use href="#k35" x="710.5" y="660.8"/>
<use href="#k35" x="710.5" y="662.2"/>
<use href="#k35" x="710.5" y="663.7"/>
<use href="#k35" x="710.5" y="665.2"/>
<use href="#k35" x="710.5" y="666.7"/>
<use href="#k35" x="710.5" y="668.2"/>
<use href="#k35" x="710.5" y="669.7"/>
<use href="#k35" x="710.5" y="671.1"/>
<line x1="710.6" y1="758" x2="710.6" y2="827" stroke="#D090D0" stroke-width="1.5"/>
<line x1="125.0" y1="16.0" x2="1015.0" y2="16.0" stroke="#000000" stroke-width="3" stroke-linecap="square"/>
<line x1="1015.0" y1="16.0" x2="1015.0" y2="899.0" stroke="#000000" stroke-width="3" stroke-linecap="butt"/>
<line x1="125.0" y1="16.0" x2="125.0" y2="899.0" stroke="#000000" stroke-width="3" stroke-linecap="butt"/>
<line x1="115.0" y1="889.0" x2="1015.0" y2="889.0" stroke="#000000" stroke-width="3" stroke-linecap="butt"/>
<line x1="106.0" y1="16.0" x2="125.0" y2="16.0" stroke="#000000" stroke-width="3" stroke-linecap="round"/>
<line x1="106.0" y1="174.7" x2="125.0" y2="174.7" stroke="#000000" stroke-width="3" stroke-linecap="round"/>
<line x1="106.0" y1="333.4" x2="125.0" y2="333.4" stroke="#000000" stroke-width="3" stroke-linecap="round"/>
<line x1="106.0" y1="492.2" x2="125.0" y2="492.2" stroke="#000000" stroke-width="3" stroke-linecap="round"/>
<line x1="106.0" y1="650.9" x2="125.0" y2="650.9" stroke="#000000" stroke-width="3" stroke-linecap="round"/>
<line x1="106.0" y1="809.6" x2="125.0" y2="809.6" stroke="#000000" stroke-width="3" stroke-linecap="round"/>
<line x1="115.0" y1="95.4" x2="125.0" y2="95.4" stroke="#000000" stroke-width="3" stroke-linecap="round"/>
<line x1="115.0" y1="254.1" x2="125.0" y2="254.1" stroke="#000000" stroke-width="3" stroke-linecap="round"/>
<line x1="115.0" y1="412.8" x2="125.0" y2="412.8" stroke="#000000" stroke-width="3" stroke-linecap="round"/>
<line x1="115.0" y1="571.5" x2="125.0" y2="571.5" stroke="#000000" stroke-width="3" stroke-linecap="round"/>
<line x1="115.0" y1="730.3" x2="125.0" y2="730.3" stroke="#000000" stroke-width="3" stroke-linecap="round"/>
<line x1="115.0" y1="889.0" x2="125.0" y2="889.0" stroke="#000000" stroke-width="3" stroke-linecap="round"/>
<line x1="199.2" y1="889.0" x2="199.2" y2="907.0" stroke="#000000" stroke-width="3" stroke-linecap="round"/>
<line x1="347.5" y1="889.0" x2="347.5" y2="907.0" stroke="#000000" stroke-width="3" stroke-linecap="round"/>
<line x1="495.9" y1="889.0" x2="495.9" y2="907.0" stroke="#000000" stroke-width="3" stroke-linecap="round"/>
<line x1="644.2" y1="889.0" x2="644.2" y2="907.0" stroke="#000000" stroke-width="3" stroke-linecap="round"/>
<line x1="792.5" y1="889.0" x2="792.5" y2="907.0" stroke="#000000" stroke-width="3" stroke-linecap="round"/>
<line x1="940.9" y1="889.0" x2="940.9" y2="907.0" stroke="#000000" stroke-width="3" stroke-linecap="round"/>
<line x1="273.3" y1="889.0" x2="273.3" y2="899.0" stroke="#000000" stroke-width="3" stroke-linecap="round"/>
<line x1="421.7" y1="889.0" x2="421.7" y2="899.0" stroke="#000000" stroke-width="3" stroke-linecap="round"/>
<line x1="570.0" y1="889.0" x2="570.0" y2="899.0" stroke="#000000" stroke-width="3" stroke-linecap="round"/>
<line x1="718.4" y1="889.0" x2="718.4" y2="899.0" stroke="#000000" stroke-width="3" stroke-linecap="round"/>
<line x1="866.7" y1="889.0" x2="866.7" y2="899.0" stroke="#000000" stroke-width="3" stroke-linecap="round"/>
<line x1="228.0" y1="422.5" x2="228.0" y2="836.5" stroke="#000000" stroke-width="2.6" stroke-linecap="butt"/>
<line x1="222.0" y1="827.5" x2="750.5" y2="827.5" stroke="#000000" stroke-width="2.6" stroke-linecap="butt"/>
<line x1="217.5" y1="473.1" x2="228.0" y2="473.1" stroke="#000000" stroke-width="2.6" stroke-linecap="round"/>
<line x1="217.5" y1="574.4" x2="228.0" y2="574.4" stroke="#000000" stroke-width="2.6" stroke-linecap="round"/>
<line x1="217.5" y1="675.7" x2="228.0" y2="675.7" stroke="#000000" stroke-width="2.6" stroke-linecap="round"/>
<line x1="217.5" y1="777.0" x2="228.0" y2="777.0" stroke="#000000" stroke-width="2.6" stroke-linecap="round"/>
<line x1="221.5" y1="422.5" x2="228.0" y2="422.5" stroke="#000000" stroke-width="2.6" stroke-linecap="round"/>
<line x1="221.5" y1="523.8" x2="228.0" y2="523.8" stroke="#000000" stroke-width="2.6" stroke-linecap="round"/>
<line x1="221.5" y1="625.0" x2="228.0" y2="625.0" stroke="#000000" stroke-width="2.6" stroke-linecap="round"/>
<line x1="221.5" y1="726.4" x2="228.0" y2="726.4" stroke="#000000" stroke-width="2.6" stroke-linecap="round"/>
<line x1="322.5" y1="827.5" x2="322.5" y2="836.5" stroke="#000000" stroke-width="2.6" stroke-linecap="round"/>
<line x1="417.5" y1="827.5" x2="417.5" y2="836.5" stroke="#000000" stroke-width="2.6" stroke-linecap="round"/>
<line x1="512.5" y1="827.5" x2="512.5" y2="836.5" stroke="#000000" stroke-width="2.6" stroke-linecap="round"/>
<line x1="607.5" y1="827.5" x2="607.5" y2="836.5" stroke="#000000" stroke-width="2.6" stroke-linecap="round"/>
<line x1="702.5" y1="827.5" x2="702.5" y2="836.5" stroke="#000000" stroke-width="2.6" stroke-linecap="round"/>
<line x1="275.0" y1="827.5" x2="275.0" y2="833.0" stroke="#000000" stroke-width="2.6" stroke-linecap="round"/>
<line x1="370.0" y1="827.5" x2="370.0" y2="833.0" stroke="#000000" stroke-width="2.6" stroke-linecap="round"/>
<line x1="465.0" y1="827.5" x2="465.0" y2="833.0" stroke="#000000" stroke-width="2.6" stroke-linecap="round"/>
<line x1="560.0" y1="827.5" x2="560.0" y2="833.0" stroke="#000000" stroke-width="2.6" stroke-linecap="round"/>
<line x1="655.0" y1="827.5" x2="655.0" y2="833.0" stroke="#000000" stroke-width="2.6" stroke-linecap="round"/>
<line x1="750.0" y1="827.5" x2="750.0" y2="833.0" stroke="#000000" stroke-width="2.6" stroke-linecap="round"/>
<text transform="translate(74.60,26.09) scale(1,1.04)" font-size="34" fill="#000" >2</text>
<text transform="translate(74.60,184.82) scale(1,1.04)" font-size="34" fill="#000" >1</text>
<text transform="translate(74.60,343.55) scale(1,1.04)" font-size="34" fill="#000" >0</text>
<text transform="translate(63.27,502.28) scale(1,1.04)" font-size="34" fill="#000" >-1</text>
<text transform="translate(63.27,661.01) scale(1,1.04)" font-size="34" fill="#000" >-2</text>
<text transform="translate(63.27,819.74) scale(1,1.04)" font-size="34" fill="#000" >-3</text>
<text transform="translate(189.72,947.00) scale(1,1.04)" font-size="34" fill="#000" >0</text>
<text transform="translate(338.06,947.00) scale(1,1.04)" font-size="34" fill="#000" >2</text>
<text transform="translate(486.50,947.00) scale(1,1.04)" font-size="34" fill="#000" >4</text>
<text transform="translate(634.62,947.00) scale(1,1.04)" font-size="34" fill="#000" >6</text>
<text transform="translate(783.08,947.00) scale(1,1.04)" font-size="34" fill="#000" >8</text>
<text transform="translate(921.33,947.00) scale(1,1.04)" font-size="34" fill="#000" >10</text>
<text transform="translate(444.02,992.00) scale(1,1.04)" font-size="40" fill="#000" >Depth (&#956;m)</text>
<text transform="translate(31.2,570.2) rotate(-90) scale(1,1.04)" font-size="40">Energy (eV)</text>
<text transform="translate(179.67,480.50) scale(1,1.04)" font-size="24" fill="#111" >0.0</text>
<text transform="translate(171.95,581.80) scale(1,1.04)" font-size="24" fill="#111" >-0.2</text>
<text transform="translate(171.45,683.10) scale(1,1.04)" font-size="24" fill="#111" >-0.4</text>
<text transform="translate(171.80,784.40) scale(1,1.04)" font-size="24" fill="#111" >-0.6</text>
<text transform="translate(210.71,861.30) scale(1,1.04)" font-size="24" fill="#111" >7.5</text>
<text transform="translate(305.77,861.30) scale(1,1.04)" font-size="24" fill="#111" >8.0</text>
<text transform="translate(400.80,861.30) scale(1,1.04)" font-size="24" fill="#111" >8.5</text>
<text transform="translate(495.72,861.30) scale(1,1.04)" font-size="24" fill="#111" >9.0</text>
<text transform="translate(590.76,861.30) scale(1,1.04)" font-size="24" fill="#111" >9.5</text>
<text transform="translate(678.70,861.30) scale(1,1.04)" font-size="24" fill="#111" >10.0</text>
<text transform="translate(133.26,118.00) scale(1,1.0)" font-size="50" font-style="italic" fill="#000" >E</text>
<text transform="translate(165.50,134.60) scale(1,1.0)" font-size="29.4" font-style="italic" fill="#000" >Fn</text>
<text transform="translate(138.96,364.00) scale(1,1.0)" font-size="50" font-style="italic" fill="#000" >E</text>
<text transform="translate(171.20,380.50) scale(1,1.0)" font-size="29.4" font-style="italic" fill="#000" >Fp</text>
<text transform="translate(393.24,155.30) scale(1,1.02)" font-size="41" font-style="italic" fill="#000" >N</text>
<text transform="translate(421.91,169.60) scale(1,1.02)" font-size="24" font-style="italic" fill="#000" >c</text>
<text transform="translate(444.81,155.20) scale(1,1.04)" font-size="40.2" fill="#000" >increasing</text>
<text transform="translate(638.91,155.20) scale(1,1.04)" font-size="40.2" fill="#000" >(</text>
<text transform="translate(652.74,155.20) scale(1,1.04)" font-size="40.2" fill="#000" >10</text>
<text transform="translate(698.61,135.60) scale(1,1.04)" font-size="23.5" fill="#000" >17</text>
<text transform="translate(734.09,155.20) scale(1,1.04)" font-size="40.2" fill="#000" >to</text>
<text transform="translate(779.04,155.20) scale(1,1.04)" font-size="40.2" fill="#000" >10</text>
<text transform="translate(822.82,135.60) scale(1,1.04)" font-size="23.5" fill="#000" >21</text>
<text transform="translate(860.49,155.20) scale(1,1.04)" font-size="40.2" fill="#000" >cm</text>
<text transform="translate(914.26,135.60) scale(1,1.04)" font-size="23.5" fill="#000" >-3</text>
<text transform="translate(935.11,155.20) scale(1,1.04)" font-size="40.2" fill="#000" >)</text>
<line x1="415.6" y1="750.9" x2="660" y2="229" stroke="#8000FF" stroke-width="3.5" stroke-linecap="round"/>
<polygon points="667,214.3 654.1,228.8 663.9,233.1" fill="#8000FF" stroke="#8000FF" stroke-width="1.5" stroke-linejoin="round"/>
<line x1="950.3" y1="288.5" x2="250" y2="419" stroke="#008000" stroke-width="3.5" stroke-linecap="round"/>
<polygon points="232.2,422.4 254.5,411.8 258,424.7" fill="#008000" stroke="#008000" stroke-width="1.5" stroke-linejoin="round"/>
<line x1="961.8" y1="449.4" x2="765" y2="801" stroke="#008000" stroke-width="3.5" stroke-linecap="round"/>
<polygon points="754.1,820.5 760.3,796.3 772.3,802.6" fill="#008000" stroke="#008000" stroke-width="1.5" stroke-linejoin="round"/>
<ellipse cx="953.8" cy="371" rx="31" ry="82" transform="rotate(2.8 953.8 371)" fill="none" stroke="#FF8C1A" stroke-width="2.8" stroke-dasharray="2.5 10.5" stroke-linecap="round"/>
</g>
</svg>
</body></html>
